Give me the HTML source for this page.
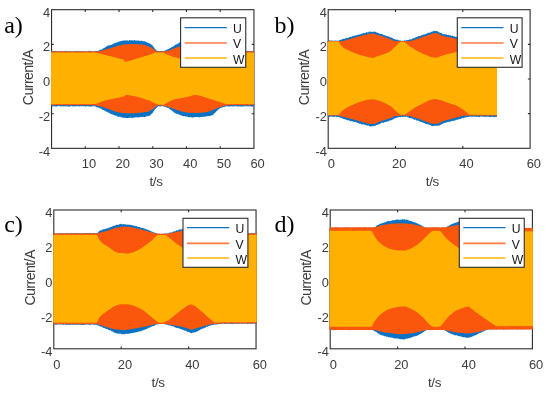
<!DOCTYPE html>
<html><head><meta charset="utf-8"><title>Current plots</title>
<style>html,body{margin:0;padding:0;background:#fff}svg{display:block}</style></head>
<body>
<svg width="550" height="395" viewBox="0 0 550 395">
<style>text{font-family:"Liberation Sans",Arial,sans-serif;fill:#3c3c3c}.tk{font-size:12.9px}.lb{font-size:14.2px}.lx{font-size:13.4px}.lg{font-size:12.2px;fill:#151515}.pl{font-family:"Liberation Serif","Times New Roman",serif;font-size:24px;fill:#000}</style>
<rect width="550" height="395" fill="#fff"/>
<rect x="51.55" y="9.7" width="202.40" height="138.65" fill="none" stroke="#2c2c2c" stroke-width="1.1"/>
<path d="M85.28 148.35v-2.2M85.28 9.7v2.2M119.02 148.35v-2.2M119.02 9.7v2.2M152.75 148.35v-2.2M152.75 9.7v2.2M186.48 148.35v-2.2M186.48 9.7v2.2M220.22 148.35v-2.2M220.22 9.7v2.2M51.55 44.36h2.2M253.95 44.36h-2.2M51.55 79.03h2.2M253.95 79.03h-2.2M51.55 113.69h2.2M253.95 113.69h-2.2" stroke="#2c2c2c" stroke-width="1.1" fill="none"/>
<polygon points="51.0,50.8 51.5,50.9 52.0,51.4 52.5,51.2 53.0,50.8 53.5,51.1 54.0,51.1 54.5,50.9 55.0,51.3 55.5,50.9 56.0,51.1 56.5,51.2 57.0,51.1 57.5,51.2 58.0,51.3 58.5,51.5 59.0,51.0 59.5,51.3 60.0,51.3 60.5,51.0 61.0,50.8 61.5,51.5 62.0,51.0 62.5,51.0 63.0,51.4 63.5,51.2 64.0,51.1 64.5,51.4 65.0,50.8 65.5,51.3 66.0,51.1 66.5,50.8 67.0,51.3 67.5,51.5 68.0,50.9 68.5,51.2 69.0,51.0 69.5,51.3 70.0,51.3 70.5,50.9 71.0,51.4 71.5,51.3 72.0,51.3 72.5,51.4 73.0,51.1 73.5,51.3 74.0,51.4 74.5,50.8 75.0,51.4 75.5,51.1 76.0,51.1 76.5,50.9 77.0,51.3 77.5,51.0 78.0,51.4 78.5,51.0 79.0,51.2 79.5,51.1 80.0,51.2 80.5,50.9 81.0,50.9 81.5,51.3 82.0,51.3 82.5,51.2 83.0,51.5 83.5,50.9 84.0,51.4 84.5,50.9 85.0,51.5 85.5,51.2 86.0,51.2 86.5,51.5 87.0,51.4 87.5,51.4 88.0,50.8 88.5,51.1 89.0,50.8 89.5,50.9 90.0,50.9 90.5,51.4 91.0,50.9 91.5,51.0 92.0,51.1 92.5,51.4 93.0,51.5 93.5,51.3 94.0,50.9 94.5,51.2 95.0,51.3 95.5,50.8 96.0,51.3 96.5,51.0 97.0,51.1 97.5,51.1 98.0,51.0 98.5,50.7 99.0,50.5 99.5,50.1 100.0,50.1 100.5,49.6 101.0,49.7 101.5,49.5 102.0,49.5 102.5,48.9 103.0,48.3 103.5,48.4 104.0,47.8 104.5,47.9 105.0,47.4 105.5,47.0 106.0,47.1 106.5,46.4 107.0,46.1 107.5,45.8 108.0,45.7 108.5,45.2 109.0,45.4 109.5,45.5 110.0,45.0 110.5,45.0 111.0,45.0 111.5,44.7 112.0,44.4 112.5,44.3 113.0,44.1 113.5,43.5 114.0,43.5 114.5,43.2 115.0,43.0 115.5,43.0 116.0,42.6 116.5,42.7 117.0,42.5 117.5,41.9 118.0,42.0 118.5,41.8 119.0,41.9 119.5,41.3 120.0,41.2 120.5,41.3 121.0,41.1 121.5,41.1 122.0,40.7 122.5,40.5 123.0,41.0 123.5,40.5 124.0,40.4 124.5,40.4 125.0,40.4 125.5,40.3 126.0,40.5 126.5,40.8 127.0,40.2 127.5,40.4 128.0,40.5 128.5,40.7 129.0,40.7 129.5,40.1 130.0,40.3 130.5,40.6 131.0,40.0 131.5,40.4 132.0,40.1 132.5,40.6 133.0,40.7 133.5,40.5 134.0,40.1 134.5,40.1 135.0,40.4 135.5,40.8 136.0,40.3 136.5,40.7 137.0,40.5 137.5,40.4 138.0,40.8 138.5,40.5 139.0,40.5 139.5,40.9 140.0,40.7 140.5,40.9 141.0,40.8 141.5,40.6 142.0,40.9 142.5,41.3 143.0,41.2 143.5,41.5 144.0,40.9 144.5,41.2 145.0,41.6 145.5,41.7 146.0,41.8 146.5,42.1 147.0,42.5 147.5,42.5 148.0,42.7 148.5,42.9 149.0,43.2 149.5,43.2 150.0,43.8 150.5,44.1 151.0,44.6 151.5,44.7 152.0,44.8 152.5,45.6 153.0,46.3 153.5,46.8 154.0,47.6 154.5,48.2 155.0,48.9 155.5,49.7 156.0,49.6 156.5,50.6 157.0,50.9 157.5,51.3 158.0,50.8 158.5,50.8 159.0,51.4 159.5,51.0 160.0,50.9 160.5,51.0 161.0,51.2 161.5,50.8 162.0,51.1 162.5,51.2 163.0,51.3 163.5,50.7 164.0,51.2 164.5,50.8 165.0,50.6 165.5,50.4 166.0,49.9 166.5,50.1 167.0,49.4 167.5,49.4 168.0,48.8 168.5,48.9 169.0,48.9 169.5,48.6 170.0,47.8 170.5,47.9 171.0,47.9 171.5,47.1 172.0,47.0 172.5,46.9 173.0,46.5 173.5,46.0 174.0,45.8 174.5,45.5 175.0,44.9 175.5,44.8 176.0,44.5 176.5,44.4 177.0,44.0 177.5,43.6 178.0,43.4 178.5,43.5 179.0,42.7 179.5,42.4 180.0,42.1 180.5,42.5 181.0,42.5 181.5,41.8 182.0,41.7 182.5,41.5 183.0,41.7 183.5,41.5 184.0,41.7 184.5,41.1 185.0,41.5 185.5,41.0 186.0,41.2 186.5,41.1 187.0,41.0 187.5,40.6 188.0,40.6 188.5,40.6 189.0,40.3 189.5,40.5 190.0,40.8 190.5,40.8 191.0,40.1 191.5,40.6 192.0,40.4 192.5,40.2 193.0,40.2 193.5,40.7 194.0,40.8 194.5,40.5 195.0,40.4 195.5,40.5 196.0,40.8 196.5,40.7 197.0,40.2 197.5,40.3 198.0,40.8 198.5,40.5 199.0,40.6 199.5,40.7 200.0,40.6 200.5,40.7 201.0,40.5 201.5,40.3 202.0,40.3 202.5,40.9 203.0,40.1 203.5,40.6 204.0,40.8 204.5,40.3 205.0,40.2 205.5,40.6 206.0,40.6 206.5,40.9 207.0,41.0 207.5,41.5 208.0,41.0 208.5,41.8 209.0,41.3 209.5,42.1 210.0,41.8 210.5,42.2 211.0,41.8 211.5,42.3 212.0,42.6 212.5,42.7 213.0,43.0 213.5,42.6 214.0,43.0 214.5,43.4 215.0,43.3 215.5,44.3 216.0,44.3 216.5,44.5 217.0,44.8 217.5,45.4 218.0,45.3 218.5,45.8 219.0,46.2 219.5,46.5 220.0,47.2 220.5,47.4 221.0,48.0 221.5,48.2 222.0,48.2 222.5,48.6 223.0,48.8 223.5,49.2 224.0,49.8 224.5,50.3 225.0,50.3 225.5,50.7 226.0,51.3 226.5,51.5 227.0,50.8 227.5,50.8 228.0,51.3 228.5,51.1 229.0,51.1 229.5,51.3 230.0,51.3 230.5,50.8 231.0,51.5 231.5,51.5 232.0,51.1 232.5,51.1 233.0,51.0 233.5,51.2 234.0,50.9 234.5,51.2 235.0,51.5 235.5,51.2 236.0,51.4 236.5,50.9 237.0,51.4 237.5,50.9 238.0,50.9 238.5,51.3 239.0,51.0 239.5,50.9 240.0,50.8 240.5,51.4 241.0,50.8 241.5,50.8 242.0,51.5 242.5,51.4 243.0,51.1 243.5,50.9 244.0,51.4 244.5,51.4 245.0,51.3 245.5,51.2 246.0,51.2 246.5,51.5 247.0,51.2 247.5,50.8 248.0,50.8 248.5,51.2 249.0,51.3 249.5,51.2 250.0,51.3 250.5,51.0 251.0,51.1 251.5,51.0 252.0,51.1 252.5,51.0 253.0,51.4 253.5,50.9 254.0,50.9 254.1,51.3 254.1,106.4 254.0,106.4 253.5,106.5 253.0,106.6 252.5,106.4 252.0,106.7 251.5,106.6 251.0,106.4 250.5,106.6 250.0,106.1 249.5,106.1 249.0,106.7 248.5,106.3 248.0,106.5 247.5,106.4 247.0,106.1 246.5,106.3 246.0,106.4 245.5,106.1 245.0,106.2 244.5,106.1 244.0,106.5 243.5,106.6 243.0,106.2 242.5,106.4 242.0,106.5 241.5,106.7 241.0,106.5 240.5,106.5 240.0,106.2 239.5,106.3 239.0,106.8 238.5,106.6 238.0,106.5 237.5,106.2 237.0,106.5 236.5,106.2 236.0,106.4 235.5,106.1 235.0,106.1 234.5,106.7 234.0,106.0 233.5,106.6 233.0,106.6 232.5,106.3 232.0,106.7 231.5,106.0 231.0,106.6 230.5,106.2 230.0,106.7 229.5,106.7 229.0,106.1 228.5,106.6 228.0,106.4 227.5,106.5 227.0,106.1 226.5,106.7 226.0,106.2 225.5,106.2 225.0,106.8 224.5,106.9 224.0,106.9 223.5,106.7 223.0,107.3 222.5,107.6 222.0,107.4 221.5,107.4 221.0,107.8 220.5,108.1 220.0,108.3 219.5,108.8 219.0,108.9 218.5,109.1 218.0,110.2 217.5,110.3 217.0,111.0 216.5,111.1 216.0,112.0 215.5,112.3 215.0,113.1 214.5,113.3 214.0,113.6 213.5,114.4 213.0,115.0 212.5,115.1 212.0,115.5 211.5,115.4 211.0,115.6 210.5,115.6 210.0,116.2 209.5,115.9 209.0,116.2 208.5,116.0 208.0,116.1 207.5,116.1 207.0,116.6 206.5,116.6 206.0,116.3 205.5,116.4 205.0,116.5 204.5,116.8 204.0,116.9 203.5,116.8 203.0,116.7 202.5,117.0 202.0,116.7 201.5,116.7 201.0,117.0 200.5,117.1 200.0,117.2 199.5,117.2 199.0,117.4 198.5,117.1 198.0,117.2 197.5,117.1 197.0,116.8 196.5,116.9 196.0,116.9 195.5,117.5 195.0,117.1 194.5,116.9 194.0,117.3 193.5,117.3 193.0,117.6 192.5,117.4 192.0,117.5 191.5,117.4 191.0,116.8 190.5,116.9 190.0,117.4 189.5,117.3 189.0,116.9 188.5,117.2 188.0,117.1 187.5,116.8 187.0,116.4 186.5,116.5 186.0,116.5 185.5,116.6 185.0,116.5 184.5,116.1 184.0,115.9 183.5,116.4 183.0,115.9 182.5,115.9 182.0,115.6 181.5,115.8 181.0,115.0 180.5,115.5 180.0,114.9 179.5,114.7 179.0,114.5 178.5,114.5 178.0,114.0 177.5,113.7 177.0,113.7 176.5,113.9 176.0,113.8 175.5,112.9 175.0,113.3 174.5,113.0 174.0,112.2 173.5,111.8 173.0,111.5 172.5,111.5 172.0,110.5 171.5,110.5 171.0,109.8 170.5,109.7 170.0,109.6 169.5,109.1 169.0,108.6 168.5,108.0 168.0,107.8 167.5,108.1 167.0,107.4 166.5,107.5 166.0,107.4 165.5,106.8 165.0,106.8 164.5,106.5 164.0,106.7 163.5,106.5 163.0,106.4 162.5,106.1 162.0,106.0 161.5,105.9 161.0,106.5 160.5,106.5 160.0,106.2 159.5,106.5 159.0,106.3 158.5,106.1 158.0,106.5 157.5,107.0 157.0,107.2 156.5,107.9 156.0,108.3 155.5,108.9 155.0,109.2 154.5,110.1 154.0,111.1 153.5,111.6 153.0,112.5 152.5,112.7 152.0,113.7 151.5,113.8 151.0,114.6 150.5,114.9 150.0,115.5 149.5,115.7 149.0,115.9 148.5,115.8 148.0,116.2 147.5,116.3 147.0,116.3 146.5,116.3 146.0,116.5 145.5,116.8 145.0,117.1 144.5,117.3 144.0,116.9 143.5,116.7 143.0,116.7 142.5,117.0 142.0,116.8 141.5,117.0 141.0,117.0 140.5,116.9 140.0,117.2 139.5,117.0 139.0,117.4 138.5,117.3 138.0,117.5 137.5,117.7 137.0,117.1 136.5,117.6 136.0,117.1 135.5,117.6 135.0,117.5 134.5,117.8 134.0,117.2 133.5,117.7 133.0,117.8 132.5,117.9 132.0,118.0 131.5,118.0 131.0,117.5 130.5,117.6 130.0,117.7 129.5,118.0 129.0,117.9 128.5,117.7 128.0,118.1 127.5,117.9 127.0,117.9 126.5,118.0 126.0,118.1 125.5,118.1 125.0,117.7 124.5,118.1 124.0,117.8 123.5,117.8 123.0,117.6 122.5,117.7 122.0,117.3 121.5,117.7 121.0,116.9 120.5,116.8 120.0,117.1 119.5,116.5 119.0,116.9 118.5,116.9 118.0,116.8 117.5,116.3 117.0,116.5 116.5,115.7 116.0,115.6 115.5,116.0 115.0,115.2 114.5,115.4 114.0,114.9 113.5,114.8 113.0,115.2 112.5,114.3 112.0,114.2 111.5,114.3 111.0,113.8 110.5,113.7 110.0,113.8 109.5,113.1 109.0,113.1 108.5,112.5 108.0,112.2 107.5,112.2 107.0,111.6 106.5,111.9 106.0,111.6 105.5,110.9 105.0,110.8 104.5,110.8 104.0,110.2 103.5,109.7 103.0,110.1 102.5,109.9 102.0,109.5 101.5,108.8 101.0,108.4 100.5,108.4 100.0,108.0 99.5,108.3 99.0,108.0 98.5,107.6 98.0,107.4 97.5,107.2 97.0,107.5 96.5,107.1 96.0,106.9 95.5,106.3 95.0,106.5 94.5,106.0 94.0,106.4 93.5,106.0 93.0,106.1 92.5,106.4 92.0,106.3 91.5,106.8 91.0,106.6 90.5,106.3 90.0,106.6 89.5,106.7 89.0,106.7 88.5,106.2 88.0,106.4 87.5,106.1 87.0,106.5 86.5,106.2 86.0,106.6 85.5,106.7 85.0,106.4 84.5,106.1 84.0,106.7 83.5,106.2 83.0,106.0 82.5,106.2 82.0,106.3 81.5,106.6 81.0,106.2 80.5,106.0 80.0,106.5 79.5,106.6 79.0,106.4 78.5,106.1 78.0,106.1 77.5,106.6 77.0,106.2 76.5,106.0 76.0,106.6 75.5,106.3 75.0,106.5 74.5,106.6 74.0,106.1 73.5,106.5 73.0,106.5 72.5,106.6 72.0,106.3 71.5,106.1 71.0,106.3 70.5,106.1 70.0,106.7 69.5,106.7 69.0,106.5 68.5,106.5 68.0,106.5 67.5,106.3 67.0,106.4 66.5,106.3 66.0,106.6 65.5,106.6 65.0,106.2 64.5,106.3 64.0,106.3 63.5,106.7 63.0,106.2 62.5,106.1 62.0,106.2 61.5,106.4 61.0,106.4 60.5,106.3 60.0,106.6 59.5,106.1 59.0,106.1 58.5,106.1 58.0,106.1 57.5,106.5 57.0,106.2 56.5,106.6 56.0,106.5 55.5,106.5 55.0,106.3 54.5,106.5 54.0,106.4 53.5,106.1 53.0,106.2 52.5,106.7 52.0,106.8 51.5,106.3 51.0,106.3" fill="#0B72C4"/>
<polygon points="51.0,51.6 51.5,51.3 52.0,51.4 52.5,51.4 53.0,51.5 53.5,51.2 54.0,51.5 54.5,51.2 55.0,51.4 55.5,51.4 56.0,51.4 56.5,51.4 57.0,51.4 57.5,51.2 58.0,51.3 58.5,51.5 59.0,51.4 59.5,51.5 60.0,51.4 60.5,51.4 61.0,51.5 61.5,51.6 62.0,51.2 62.5,51.3 63.0,51.3 63.5,51.3 64.0,51.2 64.5,51.6 65.0,51.3 65.5,51.4 66.0,51.5 66.5,51.4 67.0,51.3 67.5,51.3 68.0,51.4 68.5,51.3 69.0,51.4 69.5,51.4 70.0,51.2 70.5,51.5 71.0,51.6 71.5,51.4 72.0,51.3 72.5,51.5 73.0,51.4 73.5,51.4 74.0,51.3 74.5,51.6 75.0,51.5 75.5,51.3 76.0,51.4 76.5,51.4 77.0,51.4 77.5,51.5 78.0,51.6 78.5,51.2 79.0,51.5 79.5,51.5 80.0,51.3 80.5,51.6 81.0,51.5 81.5,51.5 82.0,51.3 82.5,51.4 83.0,51.5 83.5,51.4 84.0,51.2 84.5,51.5 85.0,51.4 85.5,51.3 86.0,51.3 86.5,51.3 87.0,51.4 87.5,51.2 88.0,51.6 88.5,51.3 89.0,51.3 89.5,51.3 90.0,51.4 90.5,51.3 91.0,51.5 91.5,51.3 92.0,51.6 92.5,51.4 93.0,51.6 93.5,51.3 94.0,51.2 94.5,51.5 95.0,51.3 95.5,51.5 96.0,51.5 96.5,51.3 97.0,51.3 97.5,51.4 98.0,51.5 98.5,51.5 99.0,51.3 99.5,51.2 100.0,51.2 100.5,50.8 101.0,51.0 101.5,50.8 102.0,50.4 102.5,50.5 103.0,50.4 103.5,50.2 104.0,49.8 104.5,49.7 105.0,49.6 105.5,49.4 106.0,49.4 106.5,49.4 107.0,49.1 107.5,49.1 108.0,48.8 108.5,48.7 109.0,48.4 109.5,48.5 110.0,48.3 110.5,48.3 111.0,48.1 111.5,47.6 112.0,47.7 112.5,47.5 113.0,47.4 113.5,47.0 114.0,47.1 114.5,46.9 115.0,46.7 115.5,46.5 116.0,46.5 116.5,46.1 117.0,46.1 117.5,45.8 118.0,45.8 118.5,45.6 119.0,45.6 119.5,45.5 120.0,45.3 120.5,45.1 121.0,45.0 121.5,44.9 122.0,44.7 122.5,44.6 123.0,44.7 123.5,44.4 124.0,44.6 124.5,44.4 125.0,44.3 125.5,44.3 126.0,44.4 126.5,44.2 127.0,44.4 127.5,44.2 128.0,44.3 128.5,44.3 129.0,44.3 129.5,44.2 130.0,44.2 130.5,44.2 131.0,44.1 131.5,44.1 132.0,44.3 132.5,44.0 133.0,44.0 133.5,44.1 134.0,44.1 134.5,44.4 135.0,44.2 135.5,44.3 136.0,44.2 136.5,44.1 137.0,44.4 137.5,44.4 138.0,44.1 138.5,44.4 139.0,44.3 139.5,44.2 140.0,44.2 140.5,44.4 141.0,44.3 141.5,44.5 142.0,44.6 142.5,44.7 143.0,44.6 143.5,45.0 144.0,44.9 144.5,45.1 145.0,45.1 145.5,45.1 146.0,45.4 146.5,45.4 147.0,45.7 147.5,45.8 148.0,45.9 148.5,46.3 149.0,46.5 149.5,46.9 150.0,46.9 150.5,47.4 151.0,47.3 151.5,47.6 152.0,48.0 152.5,48.5 153.0,48.9 153.5,49.2 154.0,49.5 154.5,50.1 155.0,50.2 155.5,50.8 156.0,51.0 156.5,51.4 157.0,51.6 157.5,51.5 158.0,51.5 158.5,51.5 159.0,51.5 159.5,51.4 160.0,51.5 160.5,51.6 161.0,51.5 161.5,51.7 162.0,51.6 162.5,51.6 163.0,51.6 163.5,51.4 164.0,51.5 164.5,51.3 165.0,51.2 165.5,51.2 166.0,51.1 166.5,51.1 167.0,50.7 167.5,50.7 168.0,50.7 168.5,50.6 169.0,50.4 169.5,50.1 170.0,49.9 170.5,49.9 171.0,49.9 171.5,49.7 172.0,49.5 172.5,49.1 173.0,48.8 173.5,48.6 174.0,48.5 174.5,48.3 175.0,48.0 175.5,48.0 176.0,47.6 176.5,47.6 177.0,47.3 177.5,47.2 178.0,46.9 178.5,46.8 179.0,46.7 179.5,46.2 180.0,46.4 180.5,46.1 181.0,46.1 181.5,45.7 182.0,45.7 182.5,45.7 183.0,45.6 183.5,45.5 184.0,45.5 184.5,45.1 185.0,45.2 185.5,45.0 186.0,45.1 186.5,45.0 187.0,44.7 187.5,44.6 188.0,44.7 188.5,44.6 189.0,44.5 189.5,44.4 190.0,44.4 190.5,44.2 191.0,44.1 191.5,44.0 192.0,44.2 192.5,44.1 193.0,44.3 193.5,44.2 194.0,44.4 194.5,44.3 195.0,44.1 195.5,44.2 196.0,44.2 196.5,44.2 197.0,44.4 197.5,44.2 198.0,44.1 198.5,44.1 199.0,44.2 199.5,44.1 200.0,44.2 200.5,44.3 201.0,44.4 201.5,44.2 202.0,44.2 202.5,44.1 203.0,44.2 203.5,44.2 204.0,44.3 204.5,44.4 205.0,44.3 205.5,44.2 206.0,44.3 206.5,44.6 207.0,44.8 207.5,44.7 208.0,44.9 208.5,44.8 209.0,44.9 209.5,45.3 210.0,45.3 210.5,45.3 211.0,45.5 211.5,45.6 212.0,45.7 212.5,45.7 213.0,45.9 213.5,46.1 214.0,46.0 214.5,46.3 215.0,46.7 215.5,46.6 216.0,46.9 216.5,47.2 217.0,47.5 217.5,47.7 218.0,48.2 218.5,48.1 219.0,48.4 219.5,48.6 220.0,48.9 220.5,49.3 221.0,49.3 221.5,49.8 222.0,50.0 222.5,49.9 223.0,50.4 223.5,50.3 224.0,50.6 224.5,50.7 225.0,50.9 225.5,51.2 226.0,51.5 226.5,51.2 227.0,51.3 227.5,51.4 228.0,51.6 228.5,51.4 229.0,51.5 229.5,51.4 230.0,51.4 230.5,51.5 231.0,51.3 231.5,51.4 232.0,51.2 232.5,51.4 233.0,51.6 233.5,51.2 234.0,51.3 234.5,51.4 235.0,51.6 235.5,51.4 236.0,51.6 236.5,51.3 237.0,51.6 237.5,51.3 238.0,51.5 238.5,51.3 239.0,51.5 239.5,51.2 240.0,51.3 240.5,51.6 241.0,51.5 241.5,51.4 242.0,51.4 242.5,51.6 243.0,51.3 243.5,51.3 244.0,51.2 244.5,51.5 245.0,51.5 245.5,51.3 246.0,51.5 246.5,51.5 247.0,51.3 247.5,51.4 248.0,51.4 248.5,51.2 249.0,51.6 249.5,51.3 250.0,51.3 250.5,51.5 251.0,51.4 251.5,51.5 252.0,51.5 252.5,51.3 253.0,51.4 253.5,51.6 254.0,51.3 254.1,51.3 254.1,105.1 254.0,105.2 253.5,105.3 253.0,105.1 252.5,105.0 252.0,105.2 251.5,105.2 251.0,105.2 250.5,105.1 250.0,105.2 249.5,105.2 249.0,105.3 248.5,105.3 248.0,105.3 247.5,105.3 247.0,105.2 246.5,105.1 246.0,105.1 245.5,105.2 245.0,105.4 244.5,105.4 244.0,105.2 243.5,105.3 243.0,105.1 242.5,105.2 242.0,105.2 241.5,105.3 241.0,105.0 240.5,105.2 240.0,105.2 239.5,105.4 239.0,105.3 238.5,105.1 238.0,105.3 237.5,105.1 237.0,105.1 236.5,105.3 236.0,105.2 235.5,105.2 235.0,105.1 234.5,105.3 234.0,105.1 233.5,105.1 233.0,105.2 232.5,105.1 232.0,105.3 231.5,105.1 231.0,105.3 230.5,105.2 230.0,105.3 229.5,105.2 229.0,105.1 228.5,105.1 228.0,105.2 227.5,105.5 227.0,105.3 226.5,105.4 226.0,105.7 225.5,105.8 225.0,105.7 224.5,105.8 224.0,106.0 223.5,106.2 223.0,106.5 222.5,106.3 222.0,106.5 221.5,106.6 221.0,106.8 220.5,107.2 220.0,107.1 219.5,107.3 219.0,107.5 218.5,107.9 218.0,107.8 217.5,108.0 217.0,108.3 216.5,108.6 216.0,108.7 215.5,108.8 215.0,109.0 214.5,109.4 214.0,109.5 213.5,109.9 213.0,110.1 212.5,110.4 212.0,110.3 211.5,110.6 211.0,111.1 210.5,111.1 210.0,111.1 209.5,111.4 209.0,111.6 208.5,111.6 208.0,111.6 207.5,111.9 207.0,112.1 206.5,112.1 206.0,112.3 205.5,112.1 205.0,112.4 204.5,112.4 204.0,112.6 203.5,112.5 203.0,112.6 202.5,112.7 202.0,112.5 201.5,112.7 201.0,112.7 200.5,112.9 200.0,112.8 199.5,112.6 199.0,112.9 198.5,112.7 198.0,112.8 197.5,112.9 197.0,112.7 196.5,113.1 196.0,113.0 195.5,112.9 195.0,113.0 194.5,112.8 194.0,113.0 193.5,112.8 193.0,112.7 192.5,112.8 192.0,112.7 191.5,112.7 191.0,112.7 190.5,112.8 190.0,112.9 189.5,112.9 189.0,112.9 188.5,112.7 188.0,112.4 187.5,112.4 187.0,112.4 186.5,112.4 186.0,112.4 185.5,112.1 185.0,111.9 184.5,112.1 184.0,111.9 183.5,111.6 183.0,111.9 182.5,111.7 182.0,111.5 181.5,111.5 181.0,111.2 180.5,111.2 180.0,110.9 179.5,110.6 179.0,110.6 178.5,110.5 178.0,110.4 177.5,110.0 177.0,110.1 176.5,109.9 176.0,109.7 175.5,109.6 175.0,109.3 174.5,109.1 174.0,109.1 173.5,108.9 173.0,108.4 172.5,108.5 172.0,108.1 171.5,107.9 171.0,107.8 170.5,107.5 170.0,107.6 169.5,107.4 169.0,107.3 168.5,107.0 168.0,106.8 167.5,106.7 167.0,106.8 166.5,106.4 166.0,106.6 165.5,106.4 165.0,106.3 164.5,105.9 164.0,105.8 163.5,106.0 163.0,105.9 162.5,105.7 162.0,105.7 161.5,105.5 161.0,105.4 160.5,105.4 160.0,105.4 159.5,105.6 159.0,105.3 158.5,105.3 158.0,105.7 157.5,105.6 157.0,106.0 156.5,106.1 156.0,106.7 155.5,107.1 155.0,107.1 154.5,107.7 154.0,108.2 153.5,108.7 153.0,109.1 152.5,109.3 152.0,109.7 151.5,110.0 151.0,110.0 150.5,110.3 150.0,110.7 149.5,110.8 149.0,111.3 148.5,111.4 148.0,111.6 147.5,111.9 147.0,111.9 146.5,111.9 146.0,111.9 145.5,112.0 145.0,112.1 144.5,112.1 144.0,112.2 143.5,112.3 143.0,112.3 142.5,112.6 142.0,112.6 141.5,112.6 141.0,112.7 140.5,113.0 140.0,113.0 139.5,113.1 139.0,113.1 138.5,113.0 138.0,113.0 137.5,113.0 137.0,113.0 136.5,113.2 136.0,113.0 135.5,113.1 135.0,113.3 134.5,113.2 134.0,113.4 133.5,113.4 133.0,113.3 132.5,113.5 132.0,113.2 131.5,113.2 131.0,113.3 130.5,113.4 130.0,113.3 129.5,113.3 129.0,113.2 128.5,113.4 128.0,113.2 127.5,113.2 127.0,113.2 126.5,113.4 126.0,113.1 125.5,113.3 125.0,113.2 124.5,113.0 124.0,113.0 123.5,112.9 123.0,113.2 122.5,113.0 122.0,113.1 121.5,113.0 121.0,112.7 120.5,112.7 120.0,112.5 119.5,112.5 119.0,112.3 118.5,112.4 118.0,112.2 117.5,112.2 117.0,112.1 116.5,111.7 116.0,111.6 115.5,111.7 115.0,111.5 114.5,111.2 114.0,111.1 113.5,111.0 113.0,110.5 112.5,110.4 112.0,110.2 111.5,110.3 111.0,109.9 110.5,109.7 110.0,109.7 109.5,109.3 109.0,109.2 108.5,109.0 108.0,108.8 107.5,108.8 107.0,108.6 106.5,108.4 106.0,108.2 105.5,107.8 105.0,107.8 104.5,107.5 104.0,107.6 103.5,107.4 103.0,107.0 102.5,106.8 102.0,106.9 101.5,106.8 101.0,106.7 100.5,106.3 100.0,106.3 99.5,106.2 99.0,106.3 98.5,106.0 98.0,106.0 97.5,105.8 97.0,105.8 96.5,105.5 96.0,105.6 95.5,105.6 95.0,105.5 94.5,105.4 94.0,105.4 93.5,105.3 93.0,105.3 92.5,105.2 92.0,105.2 91.5,105.1 91.0,105.0 90.5,105.1 90.0,105.3 89.5,105.4 89.0,105.1 88.5,105.4 88.0,105.3 87.5,105.3 87.0,105.2 86.5,105.2 86.0,105.2 85.5,105.1 85.0,105.3 84.5,105.1 84.0,105.3 83.5,105.1 83.0,105.2 82.5,105.3 82.0,105.2 81.5,105.1 81.0,105.2 80.5,105.0 80.0,105.2 79.5,105.3 79.0,105.0 78.5,105.1 78.0,105.3 77.5,105.2 77.0,105.1 76.5,105.2 76.0,105.3 75.5,105.1 75.0,105.0 74.5,105.1 74.0,105.1 73.5,105.4 73.0,105.2 72.5,105.2 72.0,105.1 71.5,105.1 71.0,105.0 70.5,105.3 70.0,105.3 69.5,105.3 69.0,105.3 68.5,105.3 68.0,105.1 67.5,105.4 67.0,105.4 66.5,105.2 66.0,105.2 65.5,105.4 65.0,105.1 64.5,105.0 64.0,105.3 63.5,105.3 63.0,105.3 62.5,105.0 62.0,105.0 61.5,105.1 61.0,105.3 60.5,105.2 60.0,105.1 59.5,105.3 59.0,105.2 58.5,105.2 58.0,105.3 57.5,105.1 57.0,105.2 56.5,105.2 56.0,105.1 55.5,105.3 55.0,105.3 54.5,105.2 54.0,105.1 53.5,105.1 53.0,105.3 52.5,105.4 52.0,105.2 51.5,105.1 51.0,105.3" fill="#FA570C"/>
<polygon points="51.0,52.7 51.5,52.5 52.0,52.7 52.5,52.7 53.0,52.5 53.5,52.7 54.0,52.6 54.5,52.5 55.0,52.6 55.5,52.7 56.0,52.5 56.5,52.6 57.0,52.5 57.5,52.7 58.0,52.5 58.5,52.5 59.0,52.5 59.5,52.7 60.0,52.5 60.5,52.7 61.0,52.5 61.5,52.6 62.0,52.5 62.5,52.5 63.0,52.5 63.5,52.6 64.0,52.5 64.5,52.6 65.0,52.7 65.5,52.6 66.0,52.5 66.5,52.6 67.0,52.6 67.5,52.6 68.0,52.5 68.5,52.5 69.0,52.6 69.5,52.6 70.0,52.6 70.5,52.5 71.0,52.5 71.5,52.6 72.0,52.7 72.5,52.5 73.0,52.5 73.5,52.5 74.0,52.6 74.5,52.5 75.0,52.6 75.5,52.6 76.0,52.6 76.5,52.6 77.0,52.7 77.5,52.6 78.0,52.5 78.5,52.7 79.0,52.5 79.5,52.5 80.0,52.5 80.5,52.7 81.0,52.6 81.5,52.6 82.0,52.5 82.5,52.7 83.0,52.5 83.5,52.6 84.0,52.7 84.5,52.6 85.0,52.5 85.5,52.7 86.0,52.5 86.5,52.6 87.0,52.6 87.5,52.6 88.0,52.5 88.5,52.6 89.0,52.6 89.5,52.7 90.0,52.7 90.5,52.5 91.0,52.7 91.5,52.6 92.0,52.6 92.5,52.6 93.0,52.5 93.5,52.6 94.0,52.6 94.5,52.5 95.0,52.5 95.5,52.7 96.0,52.8 96.5,52.7 97.0,53.0 97.5,53.1 98.0,53.1 98.5,53.4 99.0,53.5 99.5,53.5 100.0,53.7 100.5,53.8 101.0,54.0 101.5,54.0 102.0,54.2 102.5,54.4 103.0,54.5 103.5,54.6 104.0,54.8 104.5,54.9 105.0,55.0 105.5,55.1 106.0,55.1 106.5,55.2 107.0,55.4 107.5,55.6 108.0,55.8 108.5,55.7 109.0,56.0 109.5,56.1 110.0,56.1 110.5,56.3 111.0,56.3 111.5,56.6 112.0,56.6 112.5,56.8 113.0,56.9 113.5,57.0 114.0,57.2 114.5,57.3 115.0,57.3 115.5,57.6 116.0,57.7 116.5,57.9 117.0,58.1 117.5,58.0 118.0,58.3 118.5,58.4 119.0,58.5 119.5,58.5 120.0,58.8 120.5,58.9 121.0,59.0 121.5,59.2 122.0,59.2 122.5,59.3 123.0,59.4 123.5,59.7 124.0,60.2 124.5,60.7 125.0,61.4 125.5,61.7 126.0,61.8 126.5,61.8 127.0,61.5 127.5,61.4 128.0,61.3 128.5,61.1 129.0,61.0 129.5,60.8 130.0,60.6 130.5,60.5 131.0,60.4 131.5,60.2 132.0,60.2 132.5,59.9 133.0,59.8 133.5,59.6 134.0,59.5 134.5,59.3 135.0,59.1 135.5,58.9 136.0,58.7 136.5,58.8 137.0,58.5 137.5,58.5 138.0,58.3 138.5,58.1 139.0,57.8 139.5,57.9 140.0,57.6 140.5,57.6 141.0,57.3 141.5,57.3 142.0,57.0 142.5,56.8 143.0,56.8 143.5,56.6 144.0,56.4 144.5,56.3 145.0,56.1 145.5,56.0 146.0,55.9 146.5,55.7 147.0,55.6 147.5,55.4 148.0,55.3 148.5,55.2 149.0,55.1 149.5,54.8 150.0,54.7 150.5,54.4 151.0,54.2 151.5,54.1 152.0,53.7 152.5,53.7 153.0,53.5 153.5,53.2 154.0,53.1 154.5,52.8 155.0,52.6 155.5,52.5 156.0,52.4 156.5,52.6 157.0,52.6 157.5,52.6 158.0,52.5 158.5,52.6 159.0,52.5 159.5,52.5 160.0,52.4 160.5,52.6 161.0,52.4 161.5,52.5 162.0,52.4 162.5,52.4 163.0,52.6 163.5,52.8 164.0,53.0 164.5,53.2 165.0,53.5 165.5,53.7 166.0,54.0 166.5,54.2 167.0,54.3 167.5,54.6 168.0,54.9 168.5,54.9 169.0,55.2 169.5,55.3 170.0,55.6 170.5,55.8 171.0,56.1 171.5,56.3 172.0,56.4 172.5,56.7 173.0,56.9 173.5,57.0 174.0,57.1 174.5,57.1 175.0,57.3 175.5,57.3 176.0,57.5 176.5,57.5 177.0,57.6 177.5,57.9 178.0,57.9 178.5,58.1 179.0,58.2 179.5,58.2 180.0,58.4 180.5,58.5 181.0,58.5 181.5,58.7 182.0,58.8 182.5,58.9 183.0,58.9 183.5,59.0 184.0,59.1 184.5,59.2 185.0,59.4 185.5,59.4 186.0,59.6 186.5,59.5 187.0,59.8 187.5,59.8 188.0,59.9 188.5,60.0 189.0,60.0 189.5,60.2 190.0,60.2 190.5,60.3 191.0,60.5 191.5,60.5 192.0,60.7 192.5,60.6 193.0,60.9 193.5,61.1 194.0,61.2 194.5,61.3 195.0,61.4 195.5,61.2 196.0,61.1 196.5,60.8 197.0,60.5 197.5,60.4 198.0,60.1 198.5,60.1 199.0,59.9 199.5,59.8 200.0,59.8 200.5,59.5 201.0,59.4 201.5,59.2 202.0,59.1 202.5,59.0 203.0,58.8 203.5,58.7 204.0,58.7 204.5,58.5 205.0,58.3 205.5,58.2 206.0,58.0 206.5,57.9 207.0,57.8 207.5,57.6 208.0,57.5 208.5,57.3 209.0,57.3 209.5,57.2 210.0,57.1 210.5,56.9 211.0,56.7 211.5,56.6 212.0,56.3 212.5,56.2 213.0,56.1 213.5,56.0 214.0,55.8 214.5,55.7 215.0,55.5 215.5,55.4 216.0,55.3 216.5,55.1 217.0,54.8 217.5,54.7 218.0,54.6 218.5,54.4 219.0,54.2 219.5,54.2 220.0,53.9 220.5,53.8 221.0,53.8 221.5,53.7 222.0,53.5 222.5,53.3 223.0,53.4 223.5,53.2 224.0,53.1 224.5,53.0 225.0,52.9 225.5,52.6 226.0,52.6 226.5,52.7 227.0,52.6 227.5,52.6 228.0,52.6 228.5,52.6 229.0,52.5 229.5,52.6 230.0,52.6 230.5,52.6 231.0,52.6 231.5,52.6 232.0,52.5 232.5,52.6 233.0,52.5 233.5,52.6 234.0,52.5 234.5,52.6 235.0,52.6 235.5,52.5 236.0,52.5 236.5,52.6 237.0,52.6 237.5,52.7 238.0,52.6 238.5,52.6 239.0,52.7 239.5,52.7 240.0,52.6 240.5,52.6 241.0,52.7 241.5,52.6 242.0,52.7 242.5,52.5 243.0,52.5 243.5,52.6 244.0,52.6 244.5,52.6 245.0,52.5 245.5,52.5 246.0,52.5 246.5,52.7 247.0,52.7 247.5,52.7 248.0,52.6 248.5,52.6 249.0,52.6 249.5,52.6 250.0,52.6 250.5,52.7 251.0,52.5 251.5,52.6 252.0,52.7 252.5,52.6 253.0,52.7 253.5,52.6 254.0,52.6 254.1,52.6 254.1,104.2 254.0,104.1 253.5,104.0 253.0,104.1 252.5,104.1 252.0,104.2 251.5,104.2 251.0,104.1 250.5,104.1 250.0,104.1 249.5,104.1 249.0,104.2 248.5,104.2 248.0,104.1 247.5,104.1 247.0,104.1 246.5,104.1 246.0,104.0 245.5,104.1 245.0,104.1 244.5,104.1 244.0,104.1 243.5,104.1 243.0,104.1 242.5,104.1 242.0,104.1 241.5,104.0 241.0,104.1 240.5,104.0 240.0,104.0 239.5,104.2 239.0,104.1 238.5,104.1 238.0,104.0 237.5,104.0 237.0,104.1 236.5,104.1 236.0,104.1 235.5,104.0 235.0,104.1 234.5,104.0 234.0,104.2 233.5,104.0 233.0,104.2 232.5,104.2 232.0,104.1 231.5,104.1 231.0,104.0 230.5,104.0 230.0,104.0 229.5,104.1 229.0,104.1 228.5,104.1 228.0,104.0 227.5,104.0 227.0,104.1 226.5,104.2 226.0,104.0 225.5,103.8 225.0,103.7 224.5,103.5 224.0,103.4 223.5,103.2 223.0,103.0 222.5,102.8 222.0,102.7 221.5,102.6 221.0,102.5 220.5,102.3 220.0,102.0 219.5,101.8 219.0,101.7 218.5,101.6 218.0,101.4 217.5,101.2 217.0,101.1 216.5,101.1 216.0,100.9 215.5,100.8 215.0,100.5 214.5,100.3 214.0,100.3 213.5,100.0 213.0,99.8 212.5,99.7 212.0,99.5 211.5,99.4 211.0,99.2 210.5,99.1 210.0,98.9 209.5,98.7 209.0,98.6 208.5,98.4 208.0,98.3 207.5,98.0 207.0,97.8 206.5,97.7 206.0,97.5 205.5,97.4 205.0,97.3 204.5,97.2 204.0,96.9 203.5,96.7 203.0,96.7 202.5,96.6 202.0,96.3 201.5,96.2 201.0,96.0 200.5,95.9 200.0,95.8 199.5,95.6 199.0,95.6 198.5,95.4 198.0,95.4 197.5,95.2 197.0,95.2 196.5,95.0 196.0,94.9 195.5,94.9 195.0,94.9 194.5,94.9 194.0,95.1 193.5,95.2 193.0,95.3 192.5,95.6 192.0,95.7 191.5,95.8 191.0,95.8 190.5,96.0 190.0,96.2 189.5,96.4 189.0,96.4 188.5,96.5 188.0,96.8 187.5,96.7 187.0,96.9 186.5,97.1 186.0,97.2 185.5,97.3 185.0,97.3 184.5,97.6 184.0,97.6 183.5,97.7 183.0,97.7 182.5,97.8 182.0,98.0 181.5,98.1 181.0,98.2 180.5,98.3 180.0,98.3 179.5,98.5 179.0,98.6 178.5,98.6 178.0,98.7 177.5,98.8 177.0,98.9 176.5,98.9 176.0,99.1 175.5,99.2 175.0,99.3 174.5,99.4 174.0,99.6 173.5,99.7 173.0,99.7 172.5,100.0 172.0,100.1 171.5,100.3 171.0,100.7 170.5,100.9 170.0,101.2 169.5,101.5 169.0,101.7 168.5,101.9 168.0,102.2 167.5,102.5 167.0,102.9 166.5,103.1 166.0,103.4 165.5,103.6 165.0,103.9 164.5,104.2 164.0,104.5 163.5,104.6 163.0,104.8 162.5,104.8 162.0,104.8 161.5,104.6 161.0,104.7 160.5,104.8 160.0,104.7 159.5,104.8 159.0,104.8 158.5,104.8 158.0,104.6 157.5,104.5 157.0,104.2 156.5,103.9 156.0,103.8 155.5,103.5 155.0,103.2 154.5,103.0 154.0,102.7 153.5,102.6 153.0,102.4 152.5,102.2 152.0,101.9 151.5,101.6 151.0,101.3 150.5,101.1 150.0,100.9 149.5,100.6 149.0,100.4 148.5,100.2 148.0,100.1 147.5,100.0 147.0,99.9 146.5,99.7 146.0,99.5 145.5,99.3 145.0,99.2 144.5,99.0 144.0,98.8 143.5,98.8 143.0,98.5 142.5,98.3 142.0,98.3 141.5,98.1 141.0,98.0 140.5,97.8 140.0,97.5 139.5,97.4 139.0,97.3 138.5,97.3 138.0,97.0 137.5,96.9 137.0,96.8 136.5,96.5 136.0,96.6 135.5,96.5 135.0,96.3 134.5,96.2 134.0,96.0 133.5,96.0 133.0,95.9 132.5,95.8 132.0,95.8 131.5,95.7 131.0,95.5 130.5,95.6 130.0,95.4 129.5,95.3 129.0,95.3 128.5,95.1 128.0,95.1 127.5,94.9 127.0,94.9 126.5,94.8 126.0,94.9 125.5,95.2 125.0,95.5 124.5,95.9 124.0,96.3 123.5,96.6 123.0,96.8 122.5,96.9 122.0,96.9 121.5,97.0 121.0,97.1 120.5,97.3 120.0,97.4 119.5,97.6 119.0,97.7 118.5,97.6 118.0,97.7 117.5,97.9 117.0,97.9 116.5,98.0 116.0,98.3 115.5,98.2 115.0,98.4 114.5,98.4 114.0,98.6 113.5,98.7 113.0,98.8 112.5,98.9 112.0,99.1 111.5,99.1 111.0,99.1 110.5,99.4 110.0,99.5 109.5,99.6 109.0,99.7 108.5,99.8 108.0,99.8 107.5,100.0 107.0,100.0 106.5,100.2 106.0,100.2 105.5,100.4 105.0,100.5 104.5,100.6 104.0,100.8 103.5,101.0 103.0,101.2 102.5,101.4 102.0,101.5 101.5,101.6 101.0,101.9 100.5,102.1 100.0,102.2 99.5,102.4 99.0,102.7 98.5,103.0 98.0,103.2 97.5,103.3 97.0,103.5 96.5,103.7 96.0,104.0 95.5,104.1 95.0,104.0 94.5,104.0 94.0,104.1 93.5,104.1 93.0,104.1 92.5,104.1 92.0,104.1 91.5,104.2 91.0,104.2 90.5,104.1 90.0,104.0 89.5,104.1 89.0,104.1 88.5,104.1 88.0,104.1 87.5,104.1 87.0,104.1 86.5,104.0 86.0,104.0 85.5,104.2 85.0,104.0 84.5,104.0 84.0,104.1 83.5,104.1 83.0,104.0 82.5,104.0 82.0,104.1 81.5,104.1 81.0,104.1 80.5,104.1 80.0,104.1 79.5,104.1 79.0,104.1 78.5,104.2 78.0,104.0 77.5,104.2 77.0,104.1 76.5,104.1 76.0,104.1 75.5,104.2 75.0,104.0 74.5,104.1 74.0,104.1 73.5,104.1 73.0,104.2 72.5,104.1 72.0,104.1 71.5,104.1 71.0,104.2 70.5,104.2 70.0,104.2 69.5,104.0 69.0,104.1 68.5,104.2 68.0,104.0 67.5,104.1 67.0,104.0 66.5,104.0 66.0,104.1 65.5,104.1 65.0,104.1 64.5,104.1 64.0,104.0 63.5,104.1 63.0,104.1 62.5,104.2 62.0,104.2 61.5,104.2 61.0,104.0 60.5,104.2 60.0,104.2 59.5,104.1 59.0,104.0 58.5,104.0 58.0,104.1 57.5,104.1 57.0,104.0 56.5,104.0 56.0,104.1 55.5,104.2 55.0,104.2 54.5,104.0 54.0,104.2 53.5,104.2 53.0,104.2 52.5,104.0 52.0,104.2 51.5,104.1 51.0,104.0" fill="#FFB000"/>
<text class="tk" x="89.0" y="168.4" text-anchor="middle">10</text>
<text class="tk" x="122.7" y="168.4" text-anchor="middle">20</text>
<text class="tk" x="156.4" y="168.4" text-anchor="middle">30</text>
<text class="tk" x="190.2" y="168.4" text-anchor="middle">40</text>
<text class="tk" x="223.9" y="168.4" text-anchor="middle">50</text>
<text class="tk" x="257.6" y="168.4" text-anchor="middle">60</text>
<text class="tk" x="50.2" y="16.6" text-anchor="end">4</text>
<text class="tk" x="50.2" y="51.4" text-anchor="end">2</text>
<text class="tk" x="50.2" y="86.2" text-anchor="end">0</text>
<text class="tk" x="50.2" y="121.1" text-anchor="end">-2</text>
<text class="tk" x="50.2" y="155.9" text-anchor="end">-4</text>
<text class="lx" x="156.2" y="186.4" text-anchor="middle" textLength="13.5" lengthAdjust="spacing">t/s</text>
<text class="lb" transform="translate(32.7,77.2) rotate(-90)" text-anchor="middle" textLength="56" lengthAdjust="spacing">Current/A</text>
<rect x="180.6" y="17.8" width="65.15" height="49.50" fill="#fff" stroke="#2c2c2c" stroke-width="1.1"/>
<line x1="184.6" y1="27.55" x2="226.8" y2="27.55" stroke="#0B72C4" stroke-width="1.25"/>
<text class="lg" x="233.1" y="33.0">U</text>
<line x1="184.6" y1="43.00" x2="226.8" y2="43.00" stroke="#FF7A40" stroke-width="1.7"/>
<text class="lg" x="233.1" y="48.4">V</text>
<line x1="184.6" y1="58.10" x2="226.8" y2="58.10" stroke="#FFB414" stroke-width="1.5"/>
<text class="lg" x="233.1" y="63.5">W</text>
<text class="pl" x="4.2" y="33">a)</text>
<rect x="328.2" y="9.7" width="201.90" height="138.60" fill="none" stroke="#2c2c2c" stroke-width="1.1"/>
<path d="M395.50 148.3v-2.2M395.50 9.7v2.2M462.80 148.3v-2.2M462.80 9.7v2.2M328.2 44.35h2.2M530.1 44.35h-2.2M328.2 79.00h2.2M530.1 79.00h-2.2M328.2 113.65h2.2M530.1 113.65h-2.2" stroke="#2c2c2c" stroke-width="1.1" fill="none"/>
<polygon points="327.8,40.9 328.3,40.9 328.8,41.0 329.3,40.6 329.8,40.3 330.3,40.8 330.8,40.6 331.3,40.6 331.8,40.4 332.3,40.5 332.8,40.9 333.3,41.0 333.8,40.4 334.3,40.8 334.8,40.5 335.3,40.8 335.8,40.5 336.3,41.0 336.8,40.6 337.3,40.8 337.8,40.6 338.3,40.8 338.8,40.7 339.3,40.3 339.8,39.9 340.3,39.7 340.8,39.7 341.3,39.8 341.8,39.5 342.3,39.2 342.8,38.7 343.3,38.8 343.8,38.8 344.3,38.8 344.8,38.7 345.3,38.2 345.8,38.4 346.3,37.7 346.8,37.9 347.3,37.9 347.8,37.9 348.3,37.8 348.8,37.5 349.3,37.3 349.8,37.0 350.3,36.9 350.8,36.6 351.3,36.9 351.8,36.4 352.3,36.1 352.8,36.4 353.3,36.0 353.8,35.9 354.3,36.1 354.8,35.3 355.3,35.2 355.8,35.4 356.3,34.9 356.8,35.4 357.3,35.3 357.8,34.6 358.3,34.9 358.8,34.5 359.3,34.4 359.8,34.2 360.3,34.4 360.8,33.8 361.3,34.1 361.8,33.6 362.3,33.4 362.8,33.8 363.3,33.0 363.8,32.9 364.3,33.1 364.8,33.2 365.3,33.1 365.8,32.8 366.3,32.2 366.8,32.1 367.3,32.5 367.8,32.4 368.3,32.4 368.8,31.8 369.3,31.8 369.8,31.6 370.3,31.4 370.8,31.9 371.3,31.9 371.8,31.4 372.3,31.8 372.8,32.0 373.3,32.0 373.8,31.6 374.3,31.4 374.8,31.7 375.3,31.8 375.8,32.1 376.3,32.4 376.8,32.5 377.3,32.4 377.8,32.7 378.3,32.8 378.8,33.5 379.3,33.6 379.8,33.9 380.3,33.6 380.8,34.1 381.3,33.8 381.8,34.1 382.3,34.3 382.8,34.4 383.3,34.5 383.8,35.2 384.3,35.0 384.8,35.4 385.3,35.2 385.8,35.7 386.3,35.9 386.8,36.2 387.3,35.9 387.8,36.6 388.3,36.7 388.8,36.3 389.3,36.7 389.8,36.9 390.3,37.5 390.8,37.5 391.3,37.4 391.8,37.8 392.3,38.3 392.8,38.0 393.3,38.7 393.8,38.9 394.3,39.2 394.8,38.9 395.3,39.7 395.8,39.4 396.3,39.8 396.8,39.6 397.3,39.6 397.8,39.7 398.3,40.2 398.8,40.6 399.3,40.6 399.8,40.2 400.3,40.2 400.8,41.0 401.3,40.6 401.8,40.9 402.3,40.8 402.8,40.8 403.3,40.9 403.8,40.6 404.3,40.5 404.8,40.2 405.3,40.9 405.8,40.1 406.3,40.5 406.8,39.8 407.3,40.1 407.8,40.2 408.3,39.9 408.8,39.8 409.3,39.6 409.8,39.2 410.3,39.7 410.8,39.3 411.3,39.4 411.8,39.1 412.3,38.5 412.8,38.7 413.3,38.3 413.8,37.9 414.3,38.0 414.8,38.1 415.3,37.2 415.8,37.5 416.3,37.2 416.8,37.0 417.3,37.0 417.8,36.5 418.3,36.2 418.8,36.1 419.3,36.1 419.8,36.1 420.3,35.8 420.8,35.9 421.3,35.3 421.8,35.0 422.3,35.2 422.8,35.1 423.3,34.7 423.8,34.2 424.3,34.4 424.8,34.4 425.3,34.0 425.8,34.1 426.3,33.5 426.8,33.7 427.3,33.3 427.8,32.9 428.3,32.8 428.8,32.6 429.3,32.7 429.8,32.8 430.3,32.5 430.8,32.2 431.3,31.6 431.8,31.9 432.3,31.8 432.8,31.3 433.3,31.2 433.8,31.1 434.3,31.1 434.8,30.8 435.3,31.2 435.8,31.1 436.3,31.3 436.8,31.0 437.3,31.3 437.8,31.3 438.3,31.9 438.8,32.3 439.3,32.4 439.8,32.4 440.3,32.7 440.8,33.0 441.3,33.0 441.8,33.1 442.3,33.9 442.8,33.9 443.3,34.3 443.8,34.2 444.3,34.2 444.8,34.1 445.3,34.6 445.8,34.6 446.3,34.3 446.8,34.5 447.3,35.2 447.8,35.1 448.3,34.8 448.8,35.0 449.3,35.3 449.8,35.5 450.3,35.1 450.8,35.6 451.3,35.7 451.8,35.9 452.3,35.6 452.8,35.9 453.3,36.3 453.8,36.1 454.3,36.4 454.8,36.5 455.3,36.7 455.8,37.1 456.3,37.1 456.8,36.8 457.3,37.3 457.8,37.0 458.3,37.4 458.8,37.8 459.3,38.0 459.8,38.3 460.3,37.9 460.8,38.2 461.3,38.5 461.8,38.7 462.3,38.9 462.8,38.7 463.3,38.7 463.8,38.9 464.3,39.5 464.8,39.1 465.3,39.4 465.8,40.0 466.3,40.3 466.8,40.1 467.3,40.5 467.8,40.3 468.3,40.4 468.8,40.7 469.3,40.4 469.8,40.7 470.3,40.8 470.8,41.0 471.3,41.0 471.8,40.5 472.3,40.6 472.8,40.4 473.3,40.4 473.8,41.1 474.3,40.5 474.8,40.6 475.3,40.9 475.8,40.5 476.3,40.6 476.8,40.4 477.3,40.9 477.8,40.6 478.3,40.4 478.8,40.5 479.3,40.8 479.8,40.7 480.3,40.5 480.8,40.5 481.3,40.6 481.8,40.7 482.3,40.6 482.8,40.8 483.3,40.6 483.8,40.4 484.3,40.4 484.8,40.6 485.3,41.1 485.8,40.6 486.3,40.6 486.8,40.3 487.3,40.7 487.8,40.3 488.3,40.5 488.8,40.5 489.3,40.6 489.8,40.4 490.3,40.5 490.8,40.3 491.3,40.7 491.8,40.5 492.3,41.0 492.8,40.9 493.3,40.7 493.8,41.0 494.3,40.6 494.8,40.4 495.3,41.0 495.8,41.0 496.3,40.4 496.8,40.6 497.0,40.3 497.0,116.8 496.8,116.8 496.3,116.9 495.8,116.8 495.3,117.2 494.8,117.1 494.3,116.7 493.8,117.1 493.3,117.2 492.8,116.7 492.3,116.8 491.8,116.8 491.3,116.7 490.8,116.9 490.3,117.2 489.8,117.0 489.3,117.0 488.8,116.8 488.3,116.6 487.8,117.0 487.3,116.4 486.8,116.4 486.3,116.8 485.8,117.1 485.3,117.0 484.8,116.6 484.3,116.9 483.8,116.4 483.3,116.9 482.8,116.6 482.3,116.8 481.8,116.5 481.3,116.6 480.8,116.6 480.3,116.5 479.8,116.9 479.3,117.0 478.8,116.9 478.3,117.0 477.8,116.6 477.3,116.4 476.8,116.7 476.3,117.0 475.8,116.7 475.3,116.7 474.8,116.5 474.3,116.7 473.8,116.4 473.3,116.4 472.8,116.4 472.3,116.9 471.8,117.0 471.3,116.4 470.8,116.7 470.3,116.5 469.8,116.5 469.3,116.8 468.8,117.1 468.3,116.8 467.8,116.9 467.3,117.1 466.8,116.9 466.3,117.2 465.8,117.5 465.3,117.3 464.8,117.7 464.3,117.5 463.8,118.2 463.3,118.2 462.8,118.1 462.3,117.9 461.8,118.4 461.3,118.6 460.8,118.8 460.3,119.0 459.8,119.1 459.3,119.3 458.8,118.9 458.3,119.5 457.8,119.8 457.3,119.7 456.8,119.8 456.3,119.8 455.8,120.3 455.3,120.3 454.8,120.5 454.3,120.7 453.8,120.4 453.3,121.0 452.8,121.0 452.3,121.1 451.8,120.7 451.3,121.3 450.8,121.7 450.3,121.6 449.8,121.6 449.3,122.0 448.8,121.5 448.3,122.2 447.8,122.0 447.3,122.1 446.8,122.4 446.3,122.5 445.8,122.8 445.3,122.5 444.8,122.7 444.3,123.2 443.8,123.0 443.3,123.2 442.8,123.7 442.3,123.7 441.8,124.2 441.3,124.3 440.8,124.9 440.3,125.0 439.8,125.1 439.3,125.8 438.8,125.4 438.3,125.8 437.8,125.6 437.3,125.7 436.8,126.1 436.3,125.6 435.8,125.6 435.3,125.9 434.8,125.7 434.3,125.7 433.8,126.1 433.3,125.7 432.8,125.9 432.3,126.2 431.8,126.1 431.3,125.7 430.8,125.2 430.3,124.9 429.8,125.1 429.3,124.8 428.8,124.6 428.3,124.2 427.8,124.5 427.3,124.1 426.8,124.3 426.3,123.9 425.8,123.9 425.3,123.7 424.8,123.4 424.3,123.0 423.8,123.2 423.3,122.6 422.8,122.5 422.3,122.3 421.8,121.9 421.3,122.3 420.8,122.1 420.3,121.4 419.8,121.6 419.3,121.5 418.8,120.8 418.3,121.2 417.8,120.4 417.3,120.3 416.8,120.4 416.3,120.5 415.8,119.6 415.3,119.6 414.8,119.9 414.3,119.7 413.8,119.4 413.3,119.1 412.8,118.6 412.3,118.7 411.8,118.8 411.3,118.1 410.8,118.1 410.3,118.2 409.8,117.9 409.3,117.9 408.8,117.8 408.3,117.2 407.8,117.5 407.3,116.7 406.8,116.8 406.3,116.4 405.8,116.8 405.3,116.9 404.8,117.0 404.3,116.5 403.8,116.6 403.3,117.0 402.8,117.0 402.3,117.1 401.8,116.5 401.3,116.9 400.8,117.2 400.3,117.0 399.8,117.1 399.3,116.9 398.8,117.3 398.3,117.5 397.8,117.3 397.3,117.5 396.8,118.1 396.3,117.8 395.8,118.1 395.3,118.2 394.8,118.2 394.3,118.4 393.8,118.7 393.3,119.3 392.8,119.4 392.3,119.8 391.8,120.0 391.3,120.1 390.8,120.4 390.3,120.4 389.8,120.3 389.3,120.8 388.8,121.3 388.3,121.2 387.8,121.2 387.3,121.6 386.8,121.8 386.3,121.8 385.8,122.1 385.3,121.7 384.8,121.9 384.3,122.5 383.8,122.7 383.3,122.9 382.8,122.5 382.3,122.6 381.8,122.7 381.3,123.3 380.8,123.1 380.3,123.8 379.8,124.0 379.3,124.2 378.8,124.1 378.3,124.7 377.8,124.3 377.3,125.2 376.8,125.0 376.3,125.1 375.8,125.4 375.3,125.7 374.8,126.3 374.3,125.7 373.8,125.7 373.3,126.1 372.8,126.5 372.3,126.1 371.8,126.5 371.3,126.1 370.8,126.3 370.3,126.5 369.8,126.4 369.3,126.2 368.8,125.5 368.3,125.4 367.8,125.8 367.3,125.6 366.8,125.4 366.3,124.9 365.8,125.2 365.3,124.8 364.8,124.8 364.3,124.9 363.8,124.3 363.3,124.2 362.8,124.5 362.3,124.3 361.8,124.4 361.3,124.2 360.8,123.7 360.3,123.8 359.8,123.7 359.3,123.7 358.8,123.4 358.3,122.8 357.8,122.8 357.3,122.9 356.8,122.5 356.3,122.7 355.8,122.1 355.3,121.8 354.8,121.9 354.3,121.9 353.8,121.8 353.3,121.4 352.8,121.5 352.3,121.6 351.8,121.4 351.3,120.8 350.8,121.2 350.3,121.2 349.8,120.9 349.3,120.4 348.8,120.2 348.3,120.0 347.8,120.3 347.3,120.4 346.8,120.1 346.3,119.6 345.8,119.6 345.3,119.8 344.8,119.3 344.3,119.1 343.8,118.9 343.3,119.0 342.8,118.5 342.3,117.9 341.8,118.3 341.3,118.1 340.8,117.6 340.3,117.7 339.8,117.4 339.3,117.3 338.8,117.1 338.3,116.9 337.8,117.0 337.3,116.8 336.8,116.9 336.3,116.9 335.8,116.6 335.3,116.5 334.8,117.0 334.3,116.7 333.8,116.7 333.3,117.1 332.8,116.5 332.3,116.8 331.8,116.6 331.3,116.6 330.8,116.6 330.3,116.5 329.8,116.8 329.3,117.0 328.8,116.5 328.3,117.0 327.8,116.9" fill="#0B72C4"/>
<polygon points="327.8,41.3 328.3,41.2 328.8,41.0 329.3,41.0 329.8,41.2 330.3,41.1 330.8,41.3 331.3,41.0 331.8,41.1 332.3,41.2 332.8,41.2 333.3,41.1 333.8,41.2 334.3,41.1 334.8,41.1 335.3,41.1 335.8,41.2 336.3,41.2 336.8,41.0 337.3,41.2 337.8,41.3 338.3,41.1 338.8,41.3 339.3,41.2 339.8,41.1 340.3,41.0 340.8,41.2 341.3,41.1 341.8,41.3 342.3,41.2 342.8,41.1 343.3,41.0 343.8,40.9 344.3,40.8 344.8,40.5 345.3,40.3 345.8,40.1 346.3,40.2 346.8,39.8 347.3,39.6 347.8,39.7 348.3,39.6 348.8,39.3 349.3,39.3 349.8,39.2 350.3,38.9 350.8,38.6 351.3,38.5 351.8,38.4 352.3,38.2 352.8,38.0 353.3,38.0 353.8,37.9 354.3,37.8 354.8,37.7 355.3,37.5 355.8,37.5 356.3,37.1 356.8,37.1 357.3,36.9 357.8,36.7 358.3,36.5 358.8,36.5 359.3,36.4 359.8,36.1 360.3,35.9 360.8,35.8 361.3,35.8 361.8,35.8 362.3,35.4 362.8,35.3 363.3,35.4 363.8,35.1 364.3,35.1 364.8,35.0 365.3,34.7 365.8,34.8 366.3,34.5 366.8,34.4 367.3,34.4 367.8,34.2 368.3,33.9 368.8,33.8 369.3,33.9 369.8,33.7 370.3,33.7 370.8,33.6 371.3,33.6 371.8,33.6 372.3,33.7 372.8,33.9 373.3,33.8 373.8,33.6 374.3,33.8 374.8,33.8 375.3,34.2 375.8,34.4 376.3,34.4 376.8,34.6 377.3,34.7 377.8,34.8 378.3,35.1 378.8,35.0 379.3,35.4 379.8,35.6 380.3,35.6 380.8,35.9 381.3,35.9 381.8,36.3 382.3,36.3 382.8,36.5 383.3,36.7 383.8,36.7 384.3,37.1 384.8,37.1 385.3,37.4 385.8,37.5 386.3,37.8 386.8,37.9 387.3,37.9 387.8,38.2 388.3,38.5 388.8,38.4 389.3,38.6 389.8,38.8 390.3,39.2 390.8,39.3 391.3,39.4 391.8,39.8 392.3,39.9 392.8,40.2 393.3,40.5 393.8,40.7 394.3,40.9 394.8,40.9 395.3,41.2 395.8,41.2 396.3,41.1 396.8,41.2 397.3,41.2 397.8,41.0 398.3,41.1 398.8,41.2 399.3,41.0 399.8,41.1 400.3,41.1 400.8,41.2 401.3,41.0 401.8,41.2 402.3,41.2 402.8,41.1 403.3,41.1 403.8,41.0 404.3,41.3 404.8,41.3 405.3,41.3 405.8,41.1 406.3,41.3 406.8,41.1 407.3,41.0 407.8,41.1 408.3,41.0 408.8,41.0 409.3,41.2 409.8,41.3 410.3,41.3 410.8,41.1 411.3,40.8 411.8,40.5 412.3,40.6 412.8,40.2 413.3,40.3 413.8,40.1 414.3,39.7 414.8,39.8 415.3,39.5 415.8,39.3 416.3,39.3 416.8,38.9 417.3,38.9 417.8,38.5 418.3,38.6 418.8,38.4 419.3,38.1 419.8,37.8 420.3,38.0 420.8,37.6 421.3,37.6 421.8,37.5 422.3,37.1 422.8,36.9 423.3,36.7 423.8,36.6 424.3,36.4 424.8,36.1 425.3,35.9 425.8,36.0 426.3,35.9 426.8,35.5 427.3,35.5 427.8,35.2 428.3,34.9 428.8,34.9 429.3,34.7 429.8,34.6 430.3,34.5 430.8,34.1 431.3,33.8 431.8,33.8 432.3,33.6 432.8,33.5 433.3,33.4 433.8,33.1 434.3,33.2 434.8,33.3 435.3,33.3 435.8,33.1 436.3,33.2 436.8,33.3 437.3,33.5 437.8,33.5 438.3,33.7 438.8,33.9 439.3,34.3 439.8,34.3 440.3,34.7 440.8,35.1 441.3,35.2 441.8,35.5 442.3,35.8 442.8,36.1 443.3,36.0 443.8,36.1 444.3,36.3 444.8,36.4 445.3,36.4 445.8,36.7 446.3,36.8 446.8,36.9 447.3,36.8 447.8,36.9 448.3,36.9 448.8,37.3 449.3,37.3 449.8,37.4 450.3,37.4 450.8,37.4 451.3,37.5 451.8,37.6 452.3,38.1 452.8,37.9 453.3,38.2 453.8,38.4 454.3,38.5 454.8,38.5 455.3,38.7 455.8,38.8 456.3,39.0 456.8,38.9 457.3,39.1 457.8,39.3 458.3,39.5 458.8,39.6 459.3,39.6 459.8,40.0 460.3,39.9 460.8,40.1 461.3,40.5 461.8,40.6 462.3,40.6 462.8,40.7 463.3,40.6 463.8,40.8 464.3,40.7 464.8,40.8 465.3,40.9 465.8,40.9 466.3,41.1 466.8,40.9 467.3,40.9 467.8,41.2 468.3,40.9 468.8,41.0 469.3,41.2 469.8,41.0 470.3,41.0 470.8,41.2 471.3,41.1 471.8,41.0 472.3,41.0 472.8,41.2 473.3,41.1 473.8,41.2 474.3,41.3 474.8,41.3 475.3,41.2 475.8,41.1 476.3,41.2 476.8,41.3 477.3,41.3 477.8,41.1 478.3,41.3 478.8,41.3 479.3,41.1 479.8,41.2 480.3,41.1 480.8,41.0 481.3,41.3 481.8,41.3 482.3,41.0 482.8,41.0 483.3,41.3 483.8,41.0 484.3,41.1 484.8,41.2 485.3,41.2 485.8,41.3 486.3,41.1 486.8,41.1 487.3,41.0 487.8,41.1 488.3,41.2 488.8,41.1 489.3,41.2 489.8,41.2 490.3,41.2 490.8,41.1 491.3,41.1 491.8,41.3 492.3,41.1 492.8,41.0 493.3,41.0 493.8,41.1 494.3,41.0 494.8,41.3 495.3,41.0 495.8,41.3 496.3,41.2 496.8,41.3 497.0,41.1 497.0,115.7 496.8,115.7 496.3,115.7 495.8,115.6 495.3,115.5 494.8,115.7 494.3,115.4 493.8,115.7 493.3,115.7 492.8,115.7 492.3,115.6 491.8,115.7 491.3,115.5 490.8,115.5 490.3,115.5 489.8,115.5 489.3,115.6 488.8,115.5 488.3,115.5 487.8,115.8 487.3,115.5 486.8,115.7 486.3,115.5 485.8,115.6 485.3,115.8 484.8,115.7 484.3,115.7 483.8,115.6 483.3,115.6 482.8,115.5 482.3,115.8 481.8,115.6 481.3,115.7 480.8,115.5 480.3,115.7 479.8,115.7 479.3,115.6 478.8,115.5 478.3,115.7 477.8,115.8 477.3,115.6 476.8,115.5 476.3,115.5 475.8,115.5 475.3,115.6 474.8,115.7 474.3,115.4 473.8,115.4 473.3,115.6 472.8,115.8 472.3,115.7 471.8,115.7 471.3,115.7 470.8,115.7 470.3,115.5 469.8,115.4 469.3,115.6 468.8,115.8 468.3,115.5 467.8,115.8 467.3,115.8 466.8,115.8 466.3,115.9 465.8,115.8 465.3,115.8 464.8,115.9 464.3,115.8 463.8,115.6 463.3,115.8 462.8,115.9 462.3,116.0 461.8,116.1 461.3,116.1 460.8,116.5 460.3,116.6 459.8,116.9 459.3,117.0 458.8,117.2 458.3,117.0 457.8,117.1 457.3,117.5 456.8,117.6 456.3,117.6 455.8,117.9 455.3,117.9 454.8,118.2 454.3,118.1 453.8,118.3 453.3,118.3 452.8,118.5 452.3,118.6 451.8,118.7 451.3,119.0 450.8,119.2 450.3,119.1 449.8,119.4 449.3,119.4 448.8,119.7 448.3,119.6 447.8,120.0 447.3,119.8 446.8,120.1 446.3,120.3 445.8,120.4 445.3,120.6 444.8,120.6 444.3,120.5 443.8,120.9 443.3,121.0 442.8,121.3 442.3,121.5 441.8,121.9 441.3,122.1 440.8,122.3 440.3,122.5 439.8,122.8 439.3,123.1 438.8,123.6 438.3,123.6 437.8,123.7 437.3,123.7 436.8,123.7 436.3,123.6 435.8,123.9 435.3,123.8 434.8,123.7 434.3,123.8 433.8,123.9 433.3,123.6 432.8,123.7 432.3,123.6 431.8,123.7 431.3,123.5 430.8,123.4 430.3,123.1 429.8,122.7 429.3,122.9 428.8,122.6 428.3,122.2 427.8,122.3 427.3,122.0 426.8,121.9 426.3,121.8 425.8,121.4 425.3,121.4 424.8,120.9 424.3,120.8 423.8,120.7 423.3,120.7 422.8,120.4 422.3,120.2 421.8,119.8 421.3,119.9 420.8,119.5 420.3,119.4 419.8,119.4 419.3,119.2 418.8,119.0 418.3,118.7 417.8,118.7 417.3,118.4 416.8,118.0 416.3,118.1 415.8,117.8 415.3,117.6 414.8,117.7 414.3,117.5 413.8,117.4 413.3,117.3 412.8,117.0 412.3,116.8 411.8,116.8 411.3,116.8 410.8,116.5 410.3,116.3 409.8,116.3 409.3,116.1 408.8,116.3 408.3,115.9 407.8,115.8 407.3,116.0 406.8,115.8 406.3,115.8 405.8,115.6 405.3,115.4 404.8,115.5 404.3,115.7 403.8,115.7 403.3,115.6 402.8,115.6 402.3,115.6 401.8,115.8 401.3,115.6 400.8,115.5 400.3,115.9 399.8,115.6 399.3,115.9 398.8,115.7 398.3,116.0 397.8,116.0 397.3,116.0 396.8,115.9 396.3,116.2 395.8,116.0 395.3,116.3 394.8,116.1 394.3,116.3 393.8,116.7 393.3,117.0 392.8,117.2 392.3,117.3 391.8,117.6 391.3,118.0 390.8,118.0 390.3,118.4 389.8,118.4 389.3,118.6 388.8,118.7 388.3,118.8 387.8,119.1 387.3,119.2 386.8,119.2 386.3,119.5 385.8,119.8 385.3,119.8 384.8,119.8 384.3,120.0 383.8,120.3 383.3,120.5 382.8,120.4 382.3,120.7 381.8,120.7 381.3,121.1 380.8,121.1 380.3,121.2 379.8,121.4 379.3,121.8 378.8,122.1 378.3,122.1 377.8,122.5 377.3,122.8 376.8,122.9 376.3,123.0 375.8,123.4 375.3,123.5 374.8,123.9 374.3,123.9 373.8,124.0 373.3,124.0 372.8,124.0 372.3,124.1 371.8,124.2 371.3,123.9 370.8,124.1 370.3,123.8 369.8,123.9 369.3,123.8 368.8,123.5 368.3,123.7 367.8,123.4 367.3,123.4 366.8,123.2 366.3,123.1 365.8,122.9 365.3,122.8 364.8,122.5 364.3,122.5 363.8,122.4 363.3,122.3 362.8,122.3 362.3,121.8 361.8,122.0 361.3,121.6 360.8,121.6 360.3,121.3 359.8,121.2 359.3,121.2 358.8,121.1 358.3,120.9 357.8,120.6 357.3,120.6 356.8,120.3 356.3,120.2 355.8,120.1 355.3,119.9 354.8,119.9 354.3,119.6 353.8,119.6 353.3,119.5 352.8,119.2 352.3,119.3 351.8,119.0 351.3,118.9 350.8,118.9 350.3,118.8 349.8,118.4 349.3,118.4 348.8,118.3 348.3,118.0 347.8,117.8 347.3,118.0 346.8,117.9 346.3,117.5 345.8,117.7 345.3,117.3 344.8,117.3 344.3,117.0 343.8,116.9 343.3,116.9 342.8,116.8 342.3,116.7 341.8,116.5 341.3,116.2 340.8,116.1 340.3,116.1 339.8,116.0 339.3,115.8 338.8,115.8 338.3,115.6 337.8,115.5 337.3,115.7 336.8,115.4 336.3,115.5 335.8,115.8 335.3,115.8 334.8,115.7 334.3,115.6 333.8,115.8 333.3,115.5 332.8,115.5 332.3,115.5 331.8,115.4 331.3,115.6 330.8,115.7 330.3,115.6 329.8,115.7 329.3,115.6 328.8,115.5 328.3,115.5 327.8,115.7" fill="#FA570C"/>
<polygon points="327.8,41.5 328.3,41.5 328.8,41.5 329.3,41.5 329.8,41.5 330.3,41.5 330.8,41.5 331.3,41.5 331.8,41.5 332.3,41.5 332.8,41.4 333.3,41.5 333.8,41.4 334.3,41.5 334.8,41.4 335.3,41.4 335.8,41.4 336.3,41.5 336.8,41.5 337.3,41.5 337.8,41.4 338.3,41.6 338.8,41.9 339.3,42.6 339.8,43.4 340.3,44.3 340.8,44.9 341.3,45.6 341.8,46.0 342.3,46.6 342.8,47.1 343.3,47.7 343.8,47.9 344.3,48.3 344.8,48.7 345.3,48.8 345.8,49.1 346.3,49.4 346.8,49.5 347.3,49.8 347.8,50.1 348.3,50.2 348.8,50.6 349.3,50.8 349.8,51.1 350.3,51.4 350.8,51.5 351.3,51.7 351.8,52.0 352.3,52.1 352.8,52.3 353.3,52.5 353.8,52.7 354.3,53.0 354.8,53.1 355.3,53.2 355.8,53.4 356.3,53.7 356.8,53.8 357.3,54.0 357.8,54.2 358.3,54.4 358.8,54.4 359.3,54.7 359.8,54.8 360.3,55.1 360.8,55.2 361.3,55.4 361.8,55.5 362.3,55.6 362.8,55.7 363.3,55.8 363.8,56.0 364.3,56.2 364.8,56.1 365.3,56.5 365.8,56.5 366.3,56.6 366.8,56.8 367.3,57.0 367.8,57.1 368.3,57.2 368.8,57.3 369.3,57.3 369.8,57.5 370.3,57.5 370.8,57.5 371.3,57.5 371.8,57.7 372.3,57.7 372.8,57.9 373.3,57.9 373.8,57.8 374.3,57.7 374.8,57.3 375.3,57.1 375.8,56.9 376.3,56.6 376.8,56.6 377.3,56.2 377.8,56.2 378.3,56.1 378.8,55.8 379.3,55.6 379.8,55.6 380.3,55.4 380.8,55.3 381.3,55.1 381.8,55.0 382.3,54.8 382.8,54.6 383.3,54.6 383.8,54.3 384.3,54.0 384.8,54.0 385.3,53.7 385.8,53.5 386.3,53.3 386.8,53.1 387.3,52.9 387.8,52.6 388.3,52.3 388.8,52.2 389.3,52.0 389.8,51.6 390.3,51.3 390.8,50.8 391.3,50.5 391.8,49.9 392.3,49.5 392.8,49.0 393.3,48.6 393.8,48.0 394.3,47.6 394.8,47.1 395.3,46.7 395.8,46.0 396.3,45.5 396.8,45.1 397.3,44.5 397.8,44.1 398.3,43.8 398.8,43.3 399.3,43.0 399.8,42.5 400.3,42.0 400.8,41.9 401.3,41.6 401.8,41.8 402.3,41.7 402.8,41.7 403.3,41.7 403.8,41.7 404.3,41.9 404.8,42.0 405.3,42.4 405.8,42.9 406.3,43.3 406.8,44.0 407.3,44.4 407.8,44.8 408.3,45.1 408.8,45.5 409.3,45.9 409.8,46.3 410.3,46.6 410.8,47.0 411.3,47.2 411.8,47.6 412.3,47.8 412.8,48.2 413.3,48.5 413.8,48.8 414.3,49.1 414.8,49.6 415.3,49.9 415.8,50.2 416.3,50.3 416.8,50.7 417.3,50.9 417.8,51.1 418.3,51.4 418.8,51.6 419.3,51.9 419.8,52.2 420.3,52.3 420.8,52.6 421.3,52.9 421.8,53.2 422.3,53.4 422.8,53.6 423.3,53.9 423.8,54.2 424.3,54.3 424.8,54.4 425.3,54.8 425.8,54.9 426.3,55.1 426.8,55.3 427.3,55.5 427.8,55.8 428.3,56.0 428.8,56.3 429.3,56.3 429.8,56.6 430.3,56.8 430.8,57.0 431.3,57.2 431.8,57.1 432.3,57.2 432.8,57.3 433.3,57.4 433.8,57.4 434.3,57.6 434.8,57.6 435.3,57.8 435.8,57.8 436.3,57.8 436.8,57.6 437.3,57.5 437.8,57.4 438.3,57.2 438.8,56.9 439.3,56.7 439.8,56.5 440.3,56.3 440.8,56.2 441.3,56.0 441.8,55.8 442.3,55.7 442.8,55.6 443.3,55.4 443.8,55.2 444.3,55.1 444.8,55.0 445.3,54.7 445.8,54.6 446.3,54.4 446.8,54.2 447.3,54.2 447.8,54.0 448.3,53.9 448.8,53.8 449.3,53.7 449.8,53.5 450.3,53.5 450.8,53.2 451.3,53.3 451.8,53.1 452.3,53.0 452.8,52.9 453.3,52.7 453.8,52.6 454.3,52.4 454.8,52.3 455.3,52.2 455.8,52.1 456.3,52.1 456.8,51.9 457.3,51.5 457.8,51.1 458.3,50.7 458.8,50.4 459.3,50.1 459.8,49.6 460.3,49.2 460.8,48.8 461.3,48.5 461.8,48.1 462.3,47.7 462.8,47.2 463.3,46.6 463.8,46.2 464.3,45.6 464.8,45.2 465.3,44.7 465.8,44.3 466.3,43.8 466.8,43.2 467.3,42.7 467.8,42.3 468.3,41.8 468.8,41.7 469.3,41.4 469.8,41.5 470.3,41.5 470.8,41.5 471.3,41.5 471.8,41.5 472.3,41.4 472.8,41.4 473.3,41.5 473.8,41.4 474.3,41.5 474.8,41.5 475.3,41.4 475.8,41.5 476.3,41.5 476.8,41.4 477.3,41.4 477.8,41.4 478.3,41.4 478.8,41.4 479.3,41.4 479.8,41.5 480.3,41.5 480.8,41.5 481.3,41.4 481.8,41.5 482.3,41.5 482.8,41.5 483.3,41.4 483.8,41.4 484.3,41.4 484.8,41.4 485.3,41.5 485.8,41.5 486.3,41.5 486.8,41.5 487.3,41.5 487.8,41.5 488.3,41.5 488.8,41.5 489.3,41.4 489.8,41.5 490.3,41.5 490.8,41.5 491.3,41.5 491.8,41.5 492.3,41.4 492.8,41.5 493.3,41.4 493.8,41.4 494.3,41.4 494.8,41.5 495.3,41.4 495.8,41.5 496.3,41.4 496.8,41.4 497.0,41.4 497.0,115.1 496.8,114.9 496.3,114.9 495.8,115.1 495.3,115.0 494.8,115.0 494.3,115.0 493.8,115.0 493.3,115.0 492.8,115.0 492.3,115.0 491.8,115.0 491.3,114.9 490.8,114.8 490.3,114.8 489.8,115.0 489.3,114.9 488.8,115.0 488.3,114.9 487.8,114.9 487.3,114.9 486.8,114.8 486.3,115.0 485.8,114.9 485.3,114.9 484.8,114.8 484.3,114.8 483.8,114.9 483.3,114.9 482.8,114.9 482.3,114.8 481.8,114.8 481.3,114.8 480.8,114.9 480.3,114.7 479.8,114.8 479.3,114.9 478.8,114.8 478.3,114.9 477.8,114.9 477.3,114.7 476.8,114.8 476.3,114.8 475.8,114.8 475.3,114.7 474.8,114.8 474.3,114.7 473.8,114.7 473.3,114.8 472.8,114.8 472.3,114.8 471.8,114.7 471.3,114.7 470.8,114.7 470.3,114.8 469.8,114.8 469.3,114.6 468.8,114.3 468.3,114.0 467.8,113.5 467.3,113.0 466.8,112.4 466.3,111.9 465.8,111.7 465.3,111.2 464.8,110.8 464.3,110.6 463.8,110.1 463.3,109.8 462.8,109.5 462.3,108.9 461.8,108.8 461.3,108.4 460.8,108.2 460.3,107.8 459.8,107.6 459.3,107.2 458.8,106.9 458.3,106.6 457.8,106.5 457.3,106.0 456.8,105.8 456.3,105.6 455.8,105.3 455.3,105.1 454.8,104.8 454.3,104.8 453.8,104.6 453.3,104.3 452.8,104.3 452.3,104.2 451.8,103.9 451.3,103.9 450.8,103.7 450.3,103.5 449.8,103.4 449.3,103.2 448.8,103.0 448.3,103.0 447.8,102.8 447.3,102.6 446.8,102.5 446.3,102.2 445.8,102.0 445.3,101.9 444.8,101.8 444.3,101.6 443.8,101.4 443.3,101.1 442.8,101.0 442.3,100.8 441.8,100.6 441.3,100.4 440.8,100.3 440.3,100.1 439.8,100.1 439.3,99.9 438.8,99.8 438.3,99.7 437.8,99.6 437.3,99.4 436.8,99.3 436.3,99.3 435.8,99.1 435.3,99.2 434.8,99.1 434.3,99.1 433.8,99.1 433.3,99.2 432.8,99.2 432.3,99.4 431.8,99.7 431.3,99.7 430.8,99.8 430.3,100.0 429.8,100.0 429.3,100.3 428.8,100.6 428.3,100.8 427.8,101.0 427.3,101.2 426.8,101.6 426.3,101.7 425.8,102.0 425.3,102.2 424.8,102.6 424.3,102.7 423.8,103.0 423.3,103.2 422.8,103.6 422.3,103.8 421.8,104.0 421.3,104.4 420.8,104.5 420.3,104.8 419.8,105.1 419.3,105.3 418.8,105.6 418.3,105.8 417.8,106.1 417.3,106.3 416.8,106.5 416.3,106.8 415.8,107.0 415.3,107.3 414.8,107.6 414.3,108.0 413.8,108.3 413.3,108.7 412.8,109.0 412.3,109.4 411.8,109.8 411.3,110.2 410.8,110.4 410.3,110.8 409.8,111.1 409.3,111.4 408.8,111.8 408.3,112.3 407.8,112.6 407.3,113.0 406.8,113.3 406.3,113.6 405.8,113.9 405.3,114.3 404.8,114.6 404.3,114.7 403.8,114.8 403.3,114.8 402.8,114.8 402.3,114.7 401.8,114.9 401.3,114.7 400.8,114.8 400.3,114.7 399.8,114.5 399.3,113.9 398.8,113.6 398.3,113.1 397.8,112.7 397.3,112.2 396.8,111.9 396.3,111.3 395.8,111.0 395.3,110.5 394.8,110.0 394.3,109.6 393.8,108.9 393.3,108.5 392.8,107.9 392.3,107.4 391.8,106.9 391.3,106.7 390.8,106.3 390.3,106.0 389.8,105.8 389.3,105.5 388.8,105.1 388.3,104.9 387.8,104.6 387.3,104.2 386.8,103.9 386.3,103.6 385.8,103.5 385.3,103.2 384.8,103.1 384.3,102.8 383.8,102.5 383.3,102.4 382.8,102.3 382.3,102.0 381.8,101.7 381.3,101.5 380.8,101.3 380.3,101.1 379.8,101.0 379.3,100.8 378.8,100.7 378.3,100.6 377.8,100.4 377.3,100.2 376.8,100.2 376.3,99.9 375.8,99.9 375.3,99.8 374.8,99.6 374.3,99.5 373.8,99.3 373.3,99.3 372.8,99.2 372.3,99.4 371.8,99.3 371.3,99.4 370.8,99.5 370.3,99.5 369.8,99.5 369.3,99.6 368.8,99.7 368.3,99.7 367.8,99.8 367.3,99.8 366.8,100.0 366.3,100.1 365.8,100.1 365.3,100.3 364.8,100.5 364.3,100.7 363.8,100.8 363.3,101.0 362.8,100.9 362.3,101.2 361.8,101.3 361.3,101.5 360.8,101.5 360.3,101.8 359.8,102.0 359.3,102.0 358.8,102.2 358.3,102.5 357.8,102.6 357.3,102.9 356.8,103.1 356.3,103.3 355.8,103.4 355.3,103.7 354.8,103.9 354.3,104.1 353.8,104.4 353.3,104.6 352.8,104.7 352.3,104.9 351.8,105.1 351.3,105.5 350.8,105.6 350.3,105.9 349.8,106.1 349.3,106.4 348.8,106.6 348.3,106.9 347.8,107.0 347.3,107.3 346.8,107.7 346.3,107.9 345.8,108.3 345.3,108.6 344.8,109.0 344.3,109.4 343.8,109.8 343.3,110.1 342.8,110.4 342.3,110.9 341.8,111.1 341.3,111.8 340.8,112.3 340.3,113.0 339.8,113.6 339.3,114.2 338.8,114.7 338.3,115.0 337.8,114.9 337.3,115.1 336.8,114.9 336.3,114.9 335.8,115.1 335.3,115.0 334.8,115.1 334.3,115.0 333.8,115.0 333.3,115.1 332.8,114.9 332.3,115.1 331.8,115.1 331.3,114.9 330.8,115.0 330.3,115.0 329.8,115.1 329.3,115.0 328.8,114.9 328.3,115.0 327.8,114.9" fill="#FFB000"/>
<text class="tk" x="331.3" y="168.4" text-anchor="middle">0</text>
<text class="tk" x="399.2" y="168.4" text-anchor="middle">20</text>
<text class="tk" x="466.5" y="168.4" text-anchor="middle">40</text>
<text class="tk" x="533.8" y="168.4" text-anchor="middle">60</text>
<text class="tk" x="326.9" y="16.6" text-anchor="end">4</text>
<text class="tk" x="326.9" y="51.4" text-anchor="end">2</text>
<text class="tk" x="326.9" y="86.2" text-anchor="end">0</text>
<text class="tk" x="326.9" y="121.0" text-anchor="end">-2</text>
<text class="tk" x="326.9" y="155.8" text-anchor="end">-4</text>
<text class="lx" x="432.5" y="186.4" text-anchor="middle" textLength="13.5" lengthAdjust="spacing">t/s</text>
<text class="lb" transform="translate(309.3,77.2) rotate(-90)" text-anchor="middle" textLength="56" lengthAdjust="spacing">Current/A</text>
<rect x="457.3" y="17.8" width="64.80" height="49.50" fill="#fff" stroke="#2c2c2c" stroke-width="1.1"/>
<line x1="461.3" y1="27.55" x2="503.5" y2="27.55" stroke="#0B72C4" stroke-width="1.25"/>
<text class="lg" x="509.8" y="33.0">U</text>
<line x1="461.3" y1="43.00" x2="503.5" y2="43.00" stroke="#FF7A40" stroke-width="1.7"/>
<text class="lg" x="509.8" y="48.4">V</text>
<line x1="461.3" y1="58.10" x2="503.5" y2="58.10" stroke="#FFB414" stroke-width="1.5"/>
<text class="lg" x="509.8" y="63.5">W</text>
<text class="pl" x="274.6" y="33">b)</text>
<rect x="53.8" y="210.0" width="202.25" height="138.80" fill="none" stroke="#2c2c2c" stroke-width="1.1"/>
<path d="M121.22 348.8v-2.2M121.22 210.0v2.2M188.63 348.8v-2.2M188.63 210.0v2.2M53.8 244.70h2.2M256.05 244.70h-2.2M53.8 279.40h2.2M256.05 279.40h-2.2M53.8 314.10h2.2M256.05 314.10h-2.2" stroke="#2c2c2c" stroke-width="1.1" fill="none"/>
<polygon points="53.3,233.1 53.8,233.5 54.3,233.1 54.8,233.5 55.3,233.6 55.8,233.5 56.3,233.5 56.8,233.4 57.3,233.7 57.8,233.5 58.3,233.5 58.8,233.5 59.3,233.1 59.8,233.2 60.3,233.3 60.8,233.5 61.3,233.3 61.8,233.6 62.3,233.2 62.8,233.3 63.3,233.0 63.8,233.6 64.3,233.7 64.8,233.1 65.3,233.6 65.8,233.4 66.3,233.1 66.8,233.2 67.3,233.6 67.8,233.1 68.3,233.5 68.8,233.3 69.3,233.6 69.8,233.0 70.3,233.6 70.8,233.2 71.3,232.9 71.8,233.2 72.3,233.2 72.8,233.0 73.3,233.2 73.8,233.5 74.3,233.4 74.8,233.3 75.3,233.1 75.8,233.1 76.3,233.6 76.8,232.9 77.3,233.0 77.8,233.4 78.3,233.7 78.8,232.9 79.3,233.0 79.8,233.5 80.3,233.3 80.8,233.5 81.3,233.4 81.8,233.3 82.3,233.6 82.8,233.3 83.3,233.4 83.8,233.3 84.3,233.0 84.8,233.4 85.3,233.2 85.8,232.9 86.3,233.3 86.8,233.2 87.3,233.0 87.8,233.3 88.3,232.9 88.8,233.2 89.3,233.1 89.8,233.0 90.3,233.0 90.8,233.3 91.3,233.5 91.8,233.5 92.3,233.0 92.8,233.3 93.3,233.0 93.8,233.0 94.3,233.6 94.8,233.1 95.3,233.2 95.8,233.6 96.3,232.9 96.8,233.3 97.3,232.9 97.8,232.7 98.3,232.0 98.8,231.6 99.3,231.1 99.8,230.5 100.3,230.3 100.8,230.6 101.3,230.3 101.8,230.3 102.3,229.8 102.8,229.3 103.3,229.5 103.8,229.1 104.3,228.9 104.8,229.4 105.3,229.0 105.8,228.7 106.3,228.7 106.8,228.3 107.3,228.2 107.8,228.4 108.3,228.2 108.8,227.5 109.3,227.3 109.8,227.7 110.3,227.2 110.8,227.0 111.3,226.5 111.8,226.9 112.3,226.4 112.8,226.1 113.3,225.7 113.8,225.8 114.3,225.9 114.8,225.8 115.3,225.2 115.8,225.1 116.3,224.8 116.8,225.0 117.3,224.6 117.8,224.9 118.3,224.7 118.8,224.4 119.3,224.4 119.8,224.1 120.3,224.3 120.8,223.8 121.3,223.9 121.8,223.8 122.3,224.5 122.8,224.5 123.3,224.3 123.8,224.1 124.3,224.3 124.8,224.2 125.3,224.2 125.8,224.4 126.3,224.7 126.8,224.5 127.3,224.8 127.8,224.6 128.3,224.2 128.8,224.9 129.3,224.7 129.8,225.0 130.3,225.1 130.8,224.6 131.3,225.1 131.8,225.2 132.3,224.9 132.8,225.5 133.3,225.7 133.8,225.4 134.3,225.7 134.8,225.9 135.3,225.7 135.8,226.4 136.3,225.9 136.8,226.3 137.3,226.6 137.8,226.7 138.3,227.0 138.8,226.7 139.3,227.1 139.8,226.9 140.3,227.4 140.8,227.5 141.3,227.9 141.8,228.0 142.3,227.5 142.8,227.9 143.3,228.3 143.8,228.3 144.3,228.2 144.8,229.0 145.3,229.3 145.8,228.8 146.3,229.0 146.8,229.6 147.3,229.5 147.8,230.1 148.3,229.8 148.8,230.2 149.3,230.6 149.8,230.5 150.3,231.1 150.8,230.9 151.3,231.2 151.8,231.8 152.3,231.5 152.8,232.3 153.3,232.4 153.8,232.0 154.3,232.9 154.8,232.5 155.3,232.5 155.8,233.2 156.3,233.3 156.8,233.7 157.3,233.7 157.8,233.6 158.3,233.8 158.8,233.9 159.3,233.8 159.8,233.8 160.3,234.2 160.8,233.9 161.3,233.8 161.8,234.1 162.3,233.8 162.8,233.7 163.3,233.4 163.8,234.1 164.3,233.4 164.8,233.6 165.3,233.3 165.8,233.7 166.3,233.4 166.8,233.7 167.3,233.8 167.8,233.1 168.3,233.2 168.8,233.4 169.3,232.6 169.8,232.6 170.3,232.4 170.8,232.7 171.3,232.3 171.8,232.4 172.3,232.3 172.8,232.0 173.3,231.5 173.8,231.7 174.3,231.0 174.8,231.2 175.3,231.3 175.8,231.2 176.3,230.8 176.8,230.1 177.3,230.4 177.8,230.6 178.3,230.3 178.8,229.6 179.3,229.5 179.8,229.5 180.3,229.5 180.8,229.6 181.3,229.4 181.8,229.2 182.3,228.9 182.8,229.0 183.3,228.5 183.8,228.1 184.3,228.1 184.8,227.6 185.3,227.6 185.8,227.7 186.3,226.9 186.8,226.6 187.3,226.6 187.8,226.5 188.3,226.1 188.8,225.8 189.3,225.6 189.8,225.8 190.3,225.3 190.8,225.6 191.3,225.3 191.8,225.6 192.3,225.3 192.8,225.3 193.3,226.0 193.8,226.1 194.3,226.4 194.8,226.5 195.3,226.9 195.8,226.6 196.3,227.4 196.8,227.3 197.3,227.8 197.8,227.9 198.3,228.1 198.8,228.5 199.3,228.6 199.8,228.7 200.3,228.9 200.8,228.9 201.3,229.4 201.8,229.8 202.3,229.3 202.8,229.9 203.3,230.0 203.8,230.4 204.3,230.2 204.8,230.3 205.3,230.9 205.8,231.0 206.3,230.7 206.8,231.4 207.3,231.0 207.8,231.5 208.3,231.2 208.8,231.3 209.3,231.5 209.8,231.6 210.3,231.9 210.8,232.1 211.3,232.2 211.8,232.4 212.3,233.0 212.8,233.1 213.3,232.7 213.8,232.7 214.3,233.4 214.8,233.0 215.3,233.7 215.8,233.6 216.3,233.2 216.8,233.2 217.3,233.3 217.8,233.6 218.3,232.9 218.8,233.2 219.3,233.0 219.8,233.5 220.3,233.0 220.8,233.5 221.3,233.5 221.8,233.1 222.3,233.5 222.8,233.2 223.3,233.2 223.8,233.2 224.3,233.5 224.8,233.6 225.3,233.4 225.8,233.3 226.3,233.7 226.8,233.2 227.3,233.5 227.8,233.1 228.3,233.3 228.8,233.2 229.3,233.1 229.8,233.0 230.3,233.4 230.8,233.5 231.3,232.9 231.8,233.3 232.3,233.4 232.8,233.3 233.3,233.2 233.8,233.0 234.3,233.1 234.8,233.0 235.3,233.0 235.8,233.6 236.3,233.0 236.8,233.1 237.3,233.2 237.8,233.2 238.3,233.1 238.8,232.9 239.3,233.1 239.8,233.3 240.3,232.9 240.8,233.2 241.3,233.3 241.8,233.3 242.3,233.1 242.8,233.1 243.3,233.0 243.8,233.3 244.3,233.3 244.8,233.6 245.3,233.5 245.8,233.6 246.3,233.0 246.8,233.2 247.3,233.1 247.8,233.3 248.3,233.0 248.8,233.4 249.3,233.7 249.8,233.1 250.3,233.6 250.8,233.4 251.3,233.0 251.8,233.3 252.3,233.4 252.8,233.0 253.3,233.1 253.8,233.6 254.3,233.6 254.8,233.3 255.3,233.3 255.8,233.6 256.3,233.4 256.7,233.4 256.7,323.7 256.3,323.8 255.8,324.0 255.3,323.6 254.8,323.4 254.3,323.5 253.8,323.4 253.3,323.6 252.8,323.6 252.3,323.9 251.8,323.6 251.3,323.8 250.8,323.6 250.3,324.0 249.8,323.6 249.3,323.6 248.8,323.7 248.3,323.8 247.8,324.0 247.3,324.0 246.8,323.4 246.3,323.6 245.8,323.5 245.3,323.6 244.8,324.0 244.3,323.5 243.8,323.8 243.3,323.3 242.8,324.0 242.3,323.5 241.8,323.9 241.3,323.5 240.8,323.4 240.3,323.6 239.8,323.4 239.3,323.8 238.8,324.1 238.3,323.5 237.8,323.5 237.3,323.8 236.8,323.6 236.3,323.9 235.8,323.6 235.3,323.9 234.8,323.5 234.3,323.4 233.8,323.4 233.3,323.7 232.8,323.9 232.3,324.0 231.8,323.7 231.3,323.9 230.8,323.7 230.3,323.9 229.8,323.5 229.3,324.0 228.8,323.7 228.3,323.7 227.8,323.7 227.3,323.7 226.8,323.8 226.3,323.5 225.8,323.9 225.3,323.9 224.8,323.9 224.3,323.9 223.8,323.6 223.3,323.5 222.8,323.7 222.3,323.6 221.8,323.7 221.3,323.9 220.8,323.9 220.3,323.9 219.8,323.8 219.3,324.2 218.8,324.1 218.3,324.5 217.8,324.1 217.3,324.6 216.8,324.6 216.3,324.6 215.8,324.6 215.3,324.7 214.8,324.2 214.3,324.3 213.8,325.0 213.3,324.7 212.8,324.7 212.3,325.0 211.8,325.1 211.3,325.6 210.8,325.1 210.3,325.9 209.8,325.5 209.3,326.1 208.8,325.9 208.3,326.3 207.8,326.4 207.3,327.0 206.8,326.6 206.3,326.8 205.8,327.3 205.3,327.9 204.8,327.5 204.3,328.2 203.8,328.2 203.3,328.4 202.8,328.6 202.3,328.6 201.8,328.9 201.3,329.0 200.8,329.2 200.3,329.8 199.8,330.4 199.3,330.0 198.8,330.6 198.3,330.7 197.8,331.0 197.3,331.4 196.8,331.2 196.3,332.0 195.8,332.2 195.3,332.2 194.8,332.1 194.3,332.3 193.8,332.7 193.3,332.7 192.8,332.8 192.3,332.6 191.8,332.9 191.3,333.4 190.8,333.1 190.3,332.7 189.8,332.4 189.3,332.3 188.8,332.0 188.3,331.8 187.8,332.0 187.3,331.9 186.8,331.3 186.3,330.9 185.8,331.0 185.3,330.3 184.8,330.7 184.3,330.5 183.8,330.2 183.3,329.8 182.8,329.7 182.3,329.8 181.8,329.4 181.3,329.2 180.8,329.1 180.3,329.0 179.8,328.4 179.3,328.7 178.8,328.0 178.3,328.2 177.8,327.9 177.3,328.2 176.8,327.9 176.3,327.8 175.8,327.7 175.3,327.5 174.8,327.1 174.3,327.0 173.8,326.4 173.3,326.5 172.8,326.1 172.3,326.5 171.8,325.9 171.3,326.1 170.8,325.9 170.3,325.6 169.8,325.4 169.3,325.3 168.8,325.2 168.3,325.3 167.8,324.9 167.3,324.5 166.8,324.7 166.3,324.6 165.8,324.6 165.3,324.4 164.8,324.2 164.3,324.1 163.8,324.0 163.3,323.8 162.8,323.4 162.3,324.1 161.8,323.7 161.3,323.9 160.8,324.1 160.3,323.6 159.8,324.4 159.3,323.8 158.8,324.2 158.3,324.1 157.8,324.5 157.3,324.5 156.8,324.3 156.3,324.4 155.8,324.7 155.3,325.1 154.8,325.6 154.3,325.7 153.8,326.0 153.3,326.1 152.8,326.4 152.3,326.1 151.8,326.3 151.3,326.7 150.8,326.9 150.3,327.2 149.8,327.6 149.3,327.9 148.8,327.8 148.3,327.8 147.8,328.4 147.3,328.6 146.8,329.1 146.3,329.1 145.8,329.3 145.3,329.6 144.8,329.4 144.3,330.1 143.8,329.7 143.3,330.2 142.8,330.7 142.3,330.5 141.8,330.3 141.3,331.2 140.8,331.3 140.3,331.2 139.8,331.2 139.3,331.7 138.8,331.2 138.3,332.0 137.8,331.7 137.3,332.1 136.8,332.4 136.3,332.1 135.8,332.6 135.3,332.2 134.8,332.5 134.3,333.1 133.8,332.7 133.3,332.7 132.8,333.1 132.3,333.0 131.8,333.1 131.3,333.5 130.8,333.2 130.3,333.3 129.8,333.8 129.3,333.4 128.8,333.5 128.3,333.9 127.8,333.8 127.3,333.9 126.8,333.6 126.3,333.8 125.8,333.9 125.3,333.8 124.8,333.7 124.3,334.5 123.8,334.5 123.3,334.3 122.8,333.9 122.3,334.0 121.8,334.3 121.3,334.2 120.8,333.8 120.3,333.3 119.8,333.3 119.3,333.7 118.8,333.7 118.3,333.8 117.8,333.6 117.3,333.4 116.8,333.5 116.3,332.9 115.8,333.4 115.3,332.7 114.8,332.7 114.3,332.8 113.8,332.2 113.3,332.1 112.8,331.6 112.3,331.2 111.8,331.5 111.3,330.9 110.8,330.5 110.3,330.3 109.8,330.3 109.3,330.5 108.8,330.0 108.3,330.0 107.8,329.6 107.3,329.1 106.8,329.1 106.3,329.2 105.8,328.7 105.3,328.3 104.8,328.6 104.3,327.8 103.8,327.9 103.3,327.9 102.8,327.4 102.3,327.1 101.8,327.0 101.3,326.6 100.8,326.7 100.3,326.2 99.8,326.1 99.3,326.2 98.8,325.4 98.3,325.6 97.8,325.6 97.3,325.2 96.8,324.6 96.3,324.9 95.8,324.9 95.3,324.6 94.8,324.9 94.3,324.5 93.8,324.8 93.3,324.5 92.8,324.3 92.3,324.3 91.8,324.3 91.3,324.6 90.8,324.7 90.3,324.9 89.8,324.7 89.3,324.8 88.8,324.8 88.3,324.4 87.8,324.6 87.3,324.2 86.8,324.6 86.3,324.7 85.8,324.8 85.3,324.5 84.8,324.5 84.3,324.9 83.8,324.7 83.3,324.9 82.8,324.9 82.3,325.0 81.8,324.9 81.3,324.4 80.8,324.7 80.3,324.7 79.8,324.4 79.3,324.7 78.8,324.7 78.3,324.7 77.8,324.4 77.3,324.8 76.8,324.9 76.3,324.5 75.8,324.6 75.3,325.0 74.8,324.4 74.3,324.7 73.8,324.5 73.3,324.7 72.8,324.8 72.3,324.8 71.8,324.7 71.3,324.5 70.8,324.7 70.3,325.0 69.8,324.7 69.3,324.8 68.8,324.4 68.3,324.9 67.8,325.0 67.3,324.6 66.8,324.9 66.3,324.8 65.8,324.9 65.3,324.6 64.8,324.3 64.3,324.7 63.8,324.4 63.3,324.9 62.8,324.7 62.3,324.2 61.8,324.3 61.3,324.8 60.8,324.2 60.3,324.7 59.8,324.6 59.3,324.3 58.8,324.6 58.3,324.4 57.8,324.4 57.3,324.3 56.8,324.8 56.3,324.7 55.8,324.3 55.3,324.9 54.8,324.4 54.3,324.5 53.8,324.4 53.3,325.0" fill="#0B72C4"/>
<polygon points="53.3,233.5 53.8,233.4 54.3,233.3 54.8,233.3 55.3,233.5 55.8,233.5 56.3,233.4 56.8,233.4 57.3,233.3 57.8,233.2 58.3,233.2 58.8,233.4 59.3,233.4 59.8,233.3 60.3,233.5 60.8,233.5 61.3,233.4 61.8,233.5 62.3,233.5 62.8,233.4 63.3,233.4 63.8,233.3 64.3,233.6 64.8,233.5 65.3,233.4 65.8,233.5 66.3,233.3 66.8,233.4 67.3,233.5 67.8,233.3 68.3,233.5 68.8,233.3 69.3,233.3 69.8,233.4 70.3,233.4 70.8,233.3 71.3,233.4 71.8,233.2 72.3,233.3 72.8,233.2 73.3,233.2 73.8,233.4 74.3,233.4 74.8,233.5 75.3,233.3 75.8,233.3 76.3,233.6 76.8,233.3 77.3,233.5 77.8,233.4 78.3,233.2 78.8,233.4 79.3,233.5 79.8,233.5 80.3,233.4 80.8,233.4 81.3,233.3 81.8,233.4 82.3,233.3 82.8,233.4 83.3,233.3 83.8,233.3 84.3,233.4 84.8,233.5 85.3,233.5 85.8,233.4 86.3,233.5 86.8,233.5 87.3,233.4 87.8,233.3 88.3,233.2 88.8,233.2 89.3,233.3 89.8,233.4 90.3,233.3 90.8,233.4 91.3,233.2 91.8,233.4 92.3,233.3 92.8,233.3 93.3,233.5 93.8,233.2 94.3,233.5 94.8,233.3 95.3,233.6 95.8,233.3 96.3,233.5 96.8,233.3 97.3,233.4 97.8,233.3 98.3,233.1 98.8,233.0 99.3,232.8 99.8,232.9 100.3,232.6 100.8,232.4 101.3,232.3 101.8,232.0 102.3,232.0 102.8,231.8 103.3,231.8 103.8,231.7 104.3,231.4 104.8,231.5 105.3,231.3 105.8,231.1 106.3,231.0 106.8,231.0 107.3,230.8 107.8,230.7 108.3,230.4 108.8,230.3 109.3,229.9 109.8,229.9 110.3,229.7 110.8,229.4 111.3,229.3 111.8,229.2 112.3,228.8 112.8,228.7 113.3,228.7 113.8,228.3 114.3,228.0 114.8,228.0 115.3,227.9 115.8,227.6 116.3,227.5 116.8,227.4 117.3,227.6 117.8,227.4 118.3,227.4 118.8,227.2 119.3,227.2 119.8,227.1 120.3,226.8 120.8,226.7 121.3,226.9 121.8,226.9 122.3,226.8 122.8,226.6 123.3,226.6 123.8,226.6 124.3,226.6 124.8,226.8 125.3,226.7 125.8,226.8 126.3,226.7 126.8,227.0 127.3,226.8 127.8,226.9 128.3,226.9 128.8,226.8 129.3,227.1 129.8,226.9 130.3,226.9 130.8,227.1 131.3,227.3 131.8,227.3 132.3,227.3 132.8,227.7 133.3,227.6 133.8,227.7 134.3,228.0 134.8,228.0 135.3,228.2 135.8,228.2 136.3,228.5 136.8,228.6 137.3,228.6 137.8,228.8 138.3,228.7 138.8,228.8 139.3,229.0 139.8,229.1 140.3,229.0 140.8,229.2 141.3,229.5 141.8,229.4 142.3,229.7 142.8,230.0 143.3,229.9 143.8,230.2 144.3,230.3 144.8,230.3 145.3,230.4 145.8,230.7 146.3,230.7 146.8,231.1 147.3,231.3 147.8,231.3 148.3,231.4 148.8,231.5 149.3,231.6 149.8,232.0 150.3,232.1 150.8,232.0 151.3,232.1 151.8,232.3 152.3,232.6 152.8,232.9 153.3,233.1 153.8,233.1 154.3,233.1 154.8,233.4 155.3,233.5 155.8,233.4 156.3,233.7 156.8,233.6 157.3,233.7 157.8,233.7 158.3,233.7 158.8,233.6 159.3,233.6 159.8,233.6 160.3,233.8 160.8,233.7 161.3,233.9 161.8,233.6 162.3,233.6 162.8,233.8 163.3,233.9 163.8,233.7 164.3,233.6 164.8,233.8 165.3,233.7 165.8,233.8 166.3,233.9 166.8,233.9 167.3,233.6 167.8,233.7 168.3,233.5 168.8,233.3 169.3,233.4 169.8,233.1 170.3,233.2 170.8,233.1 171.3,233.2 171.8,233.0 172.3,232.7 172.8,232.8 173.3,232.6 173.8,232.5 174.3,232.4 174.8,232.4 175.3,232.1 175.8,232.0 176.3,232.1 176.8,232.0 177.3,231.9 177.8,231.6 178.3,231.6 178.8,231.3 179.3,231.4 179.8,231.2 180.3,231.1 180.8,231.1 181.3,230.7 181.8,230.8 182.3,230.4 182.8,230.5 183.3,230.1 183.8,230.1 184.3,229.9 184.8,229.7 185.3,229.7 185.8,229.6 186.3,229.4 186.8,229.0 187.3,229.1 187.8,228.6 188.3,228.6 188.8,228.4 189.3,228.3 189.8,228.1 190.3,228.1 190.8,227.7 191.3,227.6 191.8,227.6 192.3,227.7 192.8,227.8 193.3,228.2 193.8,228.3 194.3,228.5 194.8,228.5 195.3,228.8 195.8,228.8 196.3,229.0 196.8,229.2 197.3,229.2 197.8,229.5 198.3,229.7 198.8,229.6 199.3,230.0 199.8,230.1 200.3,230.3 200.8,230.3 201.3,230.3 201.8,230.7 202.3,230.6 202.8,230.9 203.3,231.1 203.8,231.2 204.3,231.1 204.8,231.3 205.3,231.5 205.8,231.6 206.3,231.6 206.8,231.9 207.3,231.7 207.8,232.0 208.3,232.0 208.8,232.2 209.3,232.4 209.8,232.5 210.3,232.4 210.8,232.6 211.3,232.6 211.8,232.9 212.3,232.9 212.8,232.9 213.3,233.2 213.8,233.2 214.3,233.2 214.8,233.3 215.3,233.5 215.8,233.5 216.3,233.6 216.8,233.6 217.3,233.2 217.8,233.4 218.3,233.3 218.8,233.5 219.3,233.5 219.8,233.3 220.3,233.5 220.8,233.2 221.3,233.2 221.8,233.4 222.3,233.3 222.8,233.5 223.3,233.4 223.8,233.4 224.3,233.6 224.8,233.2 225.3,233.5 225.8,233.6 226.3,233.5 226.8,233.3 227.3,233.5 227.8,233.4 228.3,233.3 228.8,233.5 229.3,233.6 229.8,233.5 230.3,233.5 230.8,233.3 231.3,233.5 231.8,233.5 232.3,233.3 232.8,233.4 233.3,233.2 233.8,233.6 234.3,233.5 234.8,233.5 235.3,233.3 235.8,233.2 236.3,233.6 236.8,233.5 237.3,233.4 237.8,233.3 238.3,233.3 238.8,233.4 239.3,233.6 239.8,233.6 240.3,233.4 240.8,233.6 241.3,233.6 241.8,233.4 242.3,233.5 242.8,233.4 243.3,233.4 243.8,233.3 244.3,233.6 244.8,233.4 245.3,233.5 245.8,233.4 246.3,233.4 246.8,233.6 247.3,233.5 247.8,233.4 248.3,233.3 248.8,233.5 249.3,233.4 249.8,233.6 250.3,233.4 250.8,233.2 251.3,233.4 251.8,233.4 252.3,233.5 252.8,233.5 253.3,233.4 253.8,233.5 254.3,233.3 254.8,233.3 255.3,233.5 255.8,233.5 256.3,233.3 256.7,233.4 256.7,323.3 256.3,323.5 255.8,323.3 255.3,323.3 254.8,323.3 254.3,323.4 253.8,323.2 253.3,323.4 252.8,323.4 252.3,323.6 251.8,323.6 251.3,323.5 250.8,323.4 250.3,323.5 249.8,323.6 249.3,323.3 248.8,323.3 248.3,323.3 247.8,323.4 247.3,323.3 246.8,323.5 246.3,323.3 245.8,323.5 245.3,323.5 244.8,323.3 244.3,323.4 243.8,323.4 243.3,323.4 242.8,323.3 242.3,323.3 241.8,323.6 241.3,323.4 240.8,323.6 240.3,323.3 239.8,323.4 239.3,323.4 238.8,323.4 238.3,323.3 237.8,323.6 237.3,323.5 236.8,323.6 236.3,323.5 235.8,323.6 235.3,323.3 234.8,323.5 234.3,323.6 233.8,323.5 233.3,323.3 232.8,323.3 232.3,323.3 231.8,323.3 231.3,323.5 230.8,323.6 230.3,323.6 229.8,323.3 229.3,323.6 228.8,323.4 228.3,323.5 227.8,323.4 227.3,323.6 226.8,323.5 226.3,323.5 225.8,323.5 225.3,323.4 224.8,323.7 224.3,323.6 223.8,323.6 223.3,323.5 222.8,323.6 222.3,323.7 221.8,323.5 221.3,323.5 220.8,323.5 220.3,323.7 219.8,323.8 219.3,323.8 218.8,323.7 218.3,323.7 217.8,323.9 217.3,323.9 216.8,323.8 216.3,324.0 215.8,323.9 215.3,323.9 214.8,323.9 214.3,323.8 213.8,323.6 213.3,323.9 212.8,323.7 212.3,324.0 211.8,323.9 211.3,324.3 210.8,324.3 210.3,324.4 209.8,324.7 209.3,324.8 208.8,324.7 208.3,324.9 207.8,325.0 207.3,325.3 206.8,325.4 206.3,325.6 205.8,325.7 205.3,325.7 204.8,325.8 204.3,325.9 203.8,326.1 203.3,326.2 202.8,326.3 202.3,326.6 201.8,326.5 201.3,326.9 200.8,327.0 200.3,327.0 199.8,327.2 199.3,327.6 198.8,327.7 198.3,327.8 197.8,327.7 197.3,328.1 196.8,328.2 196.3,328.2 195.8,328.6 195.3,328.4 194.8,328.6 194.3,328.7 193.8,328.9 193.3,329.0 192.8,329.4 192.3,329.5 191.8,329.6 191.3,329.7 190.8,329.4 190.3,329.5 189.8,329.2 189.3,328.9 188.8,328.8 188.3,328.8 187.8,328.5 187.3,328.2 186.8,328.2 186.3,328.1 185.8,327.9 185.3,327.8 184.8,327.5 184.3,327.3 183.8,327.2 183.3,327.2 182.8,327.0 182.3,326.9 181.8,326.8 181.3,326.7 180.8,326.3 180.3,326.3 179.8,326.4 179.3,326.1 178.8,326.3 178.3,325.9 177.8,325.9 177.3,325.8 176.8,326.0 176.3,325.8 175.8,325.7 175.3,325.6 174.8,325.4 174.3,325.4 173.8,325.3 173.3,325.2 172.8,325.1 172.3,325.2 171.8,325.0 171.3,325.1 170.8,324.9 170.3,324.9 169.8,324.8 169.3,324.5 168.8,324.6 168.3,324.4 167.8,324.2 167.3,324.1 166.8,324.0 166.3,324.1 165.8,323.9 165.3,323.9 164.8,324.1 164.3,324.0 163.8,323.9 163.3,323.9 162.8,323.9 162.3,323.8 161.8,323.7 161.3,323.9 160.8,324.0 160.3,324.0 159.8,323.9 159.3,323.8 158.8,324.1 158.3,323.8 157.8,324.0 157.3,323.9 156.8,323.9 156.3,324.1 155.8,324.1 155.3,324.2 154.8,324.3 154.3,324.2 153.8,324.4 153.3,324.7 152.8,324.7 152.3,324.9 151.8,325.1 151.3,325.2 150.8,325.0 150.3,325.3 149.8,325.4 149.3,325.6 148.8,325.9 148.3,325.7 147.8,325.9 147.3,325.9 146.8,326.1 146.3,326.2 145.8,326.5 145.3,326.7 144.8,326.5 144.3,326.7 143.8,326.7 143.3,326.8 142.8,327.2 142.3,327.0 141.8,327.3 141.3,327.5 140.8,327.4 140.3,327.5 139.8,327.5 139.3,327.6 138.8,327.7 138.3,327.9 137.8,328.1 137.3,328.1 136.8,328.3 136.3,328.4 135.8,328.5 135.3,328.6 134.8,328.5 134.3,328.8 133.8,328.7 133.3,328.8 132.8,328.8 132.3,329.0 131.8,329.0 131.3,329.2 130.8,329.0 130.3,329.2 129.8,329.4 129.3,329.6 128.8,329.4 128.3,329.6 127.8,329.7 127.3,329.6 126.8,329.5 126.3,329.7 125.8,329.9 125.3,330.0 124.8,330.0 124.3,330.2 123.8,330.0 123.3,330.2 122.8,330.1 122.3,329.8 121.8,329.9 121.3,330.0 120.8,330.0 120.3,329.7 119.8,329.9 119.3,329.6 118.8,329.6 118.3,329.6 117.8,329.6 117.3,329.7 116.8,329.5 116.3,329.7 115.8,329.4 115.3,329.5 114.8,329.3 114.3,329.5 113.8,329.2 113.3,329.1 112.8,329.1 112.3,328.8 111.8,328.8 111.3,328.6 110.8,328.4 110.3,328.2 109.8,328.0 109.3,327.8 108.8,327.8 108.3,327.5 107.8,327.6 107.3,327.2 106.8,327.3 106.3,326.9 105.8,327.0 105.3,326.9 104.8,326.4 104.3,326.2 103.8,326.4 103.3,326.1 102.8,325.9 102.3,325.6 101.8,325.6 101.3,325.4 100.8,325.2 100.3,325.1 99.8,325.1 99.3,324.7 98.8,324.5 98.3,324.6 97.8,324.2 97.3,324.1 96.8,324.1 96.3,324.1 95.8,324.0 95.3,323.9 94.8,324.1 94.3,324.1 93.8,324.0 93.3,323.9 92.8,324.3 92.3,324.2 91.8,324.2 91.3,324.2 90.8,324.2 90.3,324.0 89.8,324.1 89.3,324.3 88.8,324.2 88.3,324.1 87.8,324.0 87.3,324.2 86.8,324.1 86.3,324.0 85.8,324.2 85.3,324.0 84.8,324.2 84.3,324.3 83.8,324.0 83.3,324.2 82.8,324.1 82.3,324.1 81.8,324.1 81.3,324.2 80.8,324.2 80.3,324.2 79.8,324.2 79.3,324.0 78.8,324.0 78.3,324.0 77.8,324.0 77.3,324.2 76.8,324.2 76.3,324.0 75.8,324.0 75.3,324.0 74.8,324.2 74.3,324.2 73.8,324.1 73.3,324.2 72.8,324.2 72.3,324.2 71.8,324.3 71.3,324.0 70.8,324.1 70.3,324.3 69.8,324.2 69.3,324.0 68.8,324.2 68.3,324.2 67.8,324.2 67.3,324.1 66.8,324.0 66.3,324.1 65.8,324.3 65.3,323.9 64.8,324.0 64.3,323.9 63.8,324.3 63.3,324.0 62.8,324.0 62.3,323.9 61.8,324.3 61.3,324.2 60.8,323.9 60.3,324.3 59.8,324.1 59.3,323.9 58.8,323.9 58.3,324.1 57.8,324.1 57.3,324.2 56.8,324.0 56.3,324.0 55.8,324.2 55.3,324.1 54.8,324.2 54.3,324.2 53.8,324.2 53.3,323.9" fill="#FA570C"/>
<polygon points="53.3,235.0 53.8,234.9 54.3,234.9 54.8,234.9 55.3,234.9 55.8,234.8 56.3,234.8 56.8,234.8 57.3,234.9 57.8,234.9 58.3,234.8 58.8,235.0 59.3,234.8 59.8,235.0 60.3,234.9 60.8,234.9 61.3,234.9 61.8,235.0 62.3,234.8 62.8,234.8 63.3,234.9 63.8,234.9 64.3,234.8 64.8,235.0 65.3,234.9 65.8,234.8 66.3,234.8 66.8,234.9 67.3,234.9 67.8,234.8 68.3,234.8 68.8,235.0 69.3,234.8 69.8,234.8 70.3,235.0 70.8,234.8 71.3,234.8 71.8,235.0 72.3,234.8 72.8,234.8 73.3,234.8 73.8,234.9 74.3,235.0 74.8,234.9 75.3,234.8 75.8,234.9 76.3,234.9 76.8,234.8 77.3,234.9 77.8,234.9 78.3,234.9 78.8,234.8 79.3,234.8 79.8,234.9 80.3,234.9 80.8,234.9 81.3,234.9 81.8,234.9 82.3,234.8 82.8,235.0 83.3,234.9 83.8,234.9 84.3,234.8 84.8,234.9 85.3,234.9 85.8,234.8 86.3,234.9 86.8,234.8 87.3,235.0 87.8,234.8 88.3,234.8 88.8,234.9 89.3,235.0 89.8,234.9 90.3,234.9 90.8,235.0 91.3,234.8 91.8,234.9 92.3,234.9 92.8,235.0 93.3,234.9 93.8,235.0 94.3,234.8 94.8,234.9 95.3,234.8 95.8,234.9 96.3,234.9 96.8,235.0 97.3,235.7 97.8,236.5 98.3,237.8 98.8,238.9 99.3,239.6 99.8,240.3 100.3,240.9 100.8,241.5 101.3,242.1 101.8,242.6 102.3,243.1 102.8,243.5 103.3,243.8 103.8,244.2 104.3,244.5 104.8,244.8 105.3,245.0 105.8,245.4 106.3,245.6 106.8,245.9 107.3,246.3 107.8,246.5 108.3,247.0 108.8,247.2 109.3,247.5 109.8,248.0 110.3,248.3 110.8,248.8 111.3,249.0 111.8,249.5 112.3,249.8 112.8,250.1 113.3,250.5 113.8,250.9 114.3,251.2 114.8,251.4 115.3,251.5 115.8,251.9 116.3,252.2 116.8,252.4 117.3,252.5 117.8,252.8 118.3,252.8 118.8,252.9 119.3,252.9 119.8,253.0 120.3,252.9 120.8,253.0 121.3,253.1 121.8,253.1 122.3,253.2 122.8,253.3 123.3,253.3 123.8,253.2 124.3,253.3 124.8,253.3 125.3,253.5 125.8,253.6 126.3,253.5 126.8,253.6 127.3,253.7 127.8,253.6 128.3,253.5 128.8,253.5 129.3,253.4 129.8,253.2 130.3,253.1 130.8,252.9 131.3,252.7 131.8,252.6 132.3,252.6 132.8,252.4 133.3,252.4 133.8,252.0 134.3,251.9 134.8,251.7 135.3,251.4 135.8,251.1 136.3,250.9 136.8,250.7 137.3,250.5 137.8,250.2 138.3,250.0 138.8,249.7 139.3,249.5 139.8,249.2 140.3,249.0 140.8,248.5 141.3,248.3 141.8,247.9 142.3,247.5 142.8,247.3 143.3,246.9 143.8,246.6 144.3,246.3 144.8,245.8 145.3,245.5 145.8,245.1 146.3,244.8 146.8,244.3 147.3,244.1 147.8,243.5 148.3,243.2 148.8,242.8 149.3,242.4 149.8,242.1 150.3,241.6 150.8,241.2 151.3,240.8 151.8,240.5 152.3,240.1 152.8,239.6 153.3,239.1 153.8,238.5 154.3,238.0 154.8,237.4 155.3,236.8 155.8,236.4 156.3,235.9 156.8,235.6 157.3,235.4 157.8,235.3 158.3,235.0 158.8,234.9 159.3,234.8 159.8,235.0 160.3,235.0 160.8,234.8 161.3,234.9 161.8,235.0 162.3,234.8 162.8,235.0 163.3,234.9 163.8,234.9 164.3,234.9 164.8,235.0 165.3,235.2 165.8,235.5 166.3,235.6 166.8,235.9 167.3,236.4 167.8,236.7 168.3,237.0 168.8,237.5 169.3,237.9 169.8,238.2 170.3,238.7 170.8,239.1 171.3,239.5 171.8,239.9 172.3,240.3 172.8,240.8 173.3,241.1 173.8,241.6 174.3,242.0 174.8,242.4 175.3,242.8 175.8,243.2 176.3,243.6 176.8,243.9 177.3,244.3 177.8,244.6 178.3,245.1 178.8,245.2 179.3,245.6 179.8,245.9 180.3,246.2 180.8,246.5 181.3,246.9 181.8,247.2 182.3,247.5 182.8,247.7 183.3,248.2 183.8,248.5 184.3,248.9 184.8,249.2 185.3,249.6 185.8,249.7 186.3,250.2 186.8,250.6 187.3,250.8 187.8,251.1 188.3,251.6 188.8,251.9 189.3,252.2 189.8,252.5 190.3,252.8 190.8,253.1 191.3,253.5 191.8,253.3 192.3,253.0 192.8,252.5 193.3,251.9 193.8,251.5 194.3,251.1 194.8,250.6 195.3,250.1 195.8,249.8 196.3,249.2 196.8,248.8 197.3,248.3 197.8,247.9 198.3,247.3 198.8,246.9 199.3,246.4 199.8,245.9 200.3,245.4 200.8,245.0 201.3,244.6 201.8,244.0 202.3,243.6 202.8,243.1 203.3,242.8 203.8,242.5 204.3,242.1 204.8,241.7 205.3,241.4 205.8,241.0 206.3,240.7 206.8,240.3 207.3,240.0 207.8,239.7 208.3,239.3 208.8,239.0 209.3,238.7 209.8,238.3 210.3,237.9 210.8,237.6 211.3,237.3 211.8,236.9 212.3,236.5 212.8,236.3 213.3,235.7 213.8,235.4 214.3,235.1 214.8,234.9 215.3,235.0 215.8,234.9 216.3,235.0 216.8,235.0 217.3,234.9 217.8,235.0 218.3,234.9 218.8,234.9 219.3,235.0 219.8,234.9 220.3,234.9 220.8,234.9 221.3,234.8 221.8,234.9 222.3,235.0 222.8,234.9 223.3,235.0 223.8,234.8 224.3,234.8 224.8,234.9 225.3,234.9 225.8,234.9 226.3,235.0 226.8,234.9 227.3,234.9 227.8,234.8 228.3,235.0 228.8,234.9 229.3,234.9 229.8,234.9 230.3,234.9 230.8,234.9 231.3,235.0 231.8,234.8 232.3,234.9 232.8,234.8 233.3,234.9 233.8,235.0 234.3,234.9 234.8,234.8 235.3,234.8 235.8,235.0 236.3,234.9 236.8,234.9 237.3,235.0 237.8,235.0 238.3,234.9 238.8,234.8 239.3,234.9 239.8,234.9 240.3,234.9 240.8,235.0 241.3,234.8 241.8,234.8 242.3,234.9 242.8,234.9 243.3,234.8 243.8,235.0 244.3,234.8 244.8,234.9 245.3,235.0 245.8,234.9 246.3,234.9 246.8,234.9 247.3,235.0 247.8,235.0 248.3,234.8 248.8,235.0 249.3,234.9 249.8,234.9 250.3,234.9 250.8,234.9 251.3,235.0 251.8,234.9 252.3,234.9 252.8,234.9 253.3,234.9 253.8,234.9 254.3,234.8 254.8,234.9 255.3,234.8 255.8,234.8 256.3,234.9 256.7,234.9 256.7,322.1 256.3,322.1 255.8,322.1 255.3,322.2 254.8,322.1 254.3,322.1 253.8,322.0 253.3,322.1 252.8,322.1 252.3,322.0 251.8,322.0 251.3,322.2 250.8,322.1 250.3,322.2 249.8,322.1 249.3,322.1 248.8,322.1 248.3,322.1 247.8,322.1 247.3,322.1 246.8,322.2 246.3,322.2 245.8,322.1 245.3,322.2 244.8,322.2 244.3,322.2 243.8,322.2 243.3,322.2 242.8,322.2 242.3,322.2 241.8,322.2 241.3,322.1 240.8,322.2 240.3,322.2 239.8,322.2 239.3,322.2 238.8,322.1 238.3,322.1 237.8,322.1 237.3,322.2 236.8,322.1 236.3,322.2 235.8,322.2 235.3,322.2 234.8,322.1 234.3,322.1 233.8,322.2 233.3,322.2 232.8,322.2 232.3,322.3 231.8,322.1 231.3,322.1 230.8,322.1 230.3,322.2 229.8,322.1 229.3,322.2 228.8,322.1 228.3,322.2 227.8,322.2 227.3,322.2 226.8,322.3 226.3,322.3 225.8,322.3 225.3,322.1 224.8,322.1 224.3,322.2 223.8,322.3 223.3,322.2 222.8,322.2 222.3,322.3 221.8,322.3 221.3,322.3 220.8,322.3 220.3,322.4 219.8,322.3 219.3,322.3 218.8,322.4 218.3,322.5 217.8,322.5 217.3,322.4 216.8,322.5 216.3,322.5 215.8,322.4 215.3,322.4 214.8,322.4 214.3,322.3 213.8,321.9 213.3,321.6 212.8,321.1 212.3,320.8 211.8,320.3 211.3,320.0 210.8,319.5 210.3,319.1 209.8,318.7 209.3,318.3 208.8,317.9 208.3,317.4 207.8,316.9 207.3,316.6 206.8,316.0 206.3,315.7 205.8,315.2 205.3,314.6 204.8,314.1 204.3,313.8 203.8,313.3 203.3,312.8 202.8,312.4 202.3,312.0 201.8,311.6 201.3,311.3 200.8,310.7 200.3,310.4 199.8,310.0 199.3,309.4 198.8,309.1 198.3,308.7 197.8,308.2 197.3,308.0 196.8,307.4 196.3,307.1 195.8,306.6 195.3,306.3 194.8,305.9 194.3,305.6 193.8,305.5 193.3,305.2 192.8,304.9 192.3,304.7 191.8,304.6 191.3,304.5 190.8,304.4 190.3,304.6 189.8,304.9 189.3,304.9 188.8,305.2 188.3,305.3 187.8,305.5 187.3,305.7 186.8,306.1 186.3,306.5 185.8,306.9 185.3,307.1 184.8,307.6 184.3,307.9 183.8,308.1 183.3,308.5 182.8,309.0 182.3,309.3 181.8,309.6 181.3,309.9 180.8,310.3 180.3,310.9 179.8,311.1 179.3,311.6 178.8,312.0 178.3,312.4 177.8,312.9 177.3,313.2 176.8,313.6 176.3,314.0 175.8,314.3 175.3,314.8 174.8,315.1 174.3,315.6 173.8,316.0 173.3,316.4 172.8,316.8 172.3,317.2 171.8,317.6 171.3,317.9 170.8,318.4 170.3,318.8 169.8,319.1 169.3,319.5 168.8,319.9 168.3,320.2 167.8,320.5 167.3,320.8 166.8,321.0 166.3,321.2 165.8,321.6 165.3,321.7 164.8,322.1 164.3,322.3 163.8,322.5 163.3,322.5 162.8,322.8 162.3,322.7 161.8,322.7 161.3,322.7 160.8,322.6 160.3,322.7 159.8,322.7 159.3,322.6 158.8,322.4 158.3,322.2 157.8,321.9 157.3,321.5 156.8,321.3 156.3,321.0 155.8,320.5 155.3,320.2 154.8,319.7 154.3,319.4 153.8,318.9 153.3,318.5 152.8,318.0 152.3,317.7 151.8,317.3 151.3,316.8 150.8,316.4 150.3,316.0 149.8,315.6 149.3,315.2 148.8,314.8 148.3,314.4 147.8,313.9 147.3,313.4 146.8,313.1 146.3,312.8 145.8,312.2 145.3,312.0 144.8,311.4 144.3,311.1 143.8,310.7 143.3,310.3 142.8,310.0 142.3,309.8 141.8,309.4 141.3,309.2 140.8,308.9 140.3,308.6 139.8,308.5 139.3,308.1 138.8,307.9 138.3,307.7 137.8,307.5 137.3,307.3 136.8,306.9 136.3,306.7 135.8,306.5 135.3,306.3 134.8,306.1 134.3,305.8 133.8,305.8 133.3,305.6 132.8,305.4 132.3,305.4 131.8,305.2 131.3,304.9 130.8,305.0 130.3,304.7 129.8,304.5 129.3,304.4 128.8,304.4 128.3,304.3 127.8,304.3 127.3,304.3 126.8,304.3 126.3,304.4 125.8,304.3 125.3,304.3 124.8,304.3 124.3,304.3 123.8,304.3 123.3,304.3 122.8,304.3 122.3,304.2 121.8,304.3 121.3,304.2 120.8,304.3 120.3,304.4 119.8,304.3 119.3,304.6 118.8,304.7 118.3,304.8 117.8,305.1 117.3,305.1 116.8,305.2 116.3,305.4 115.8,305.7 115.3,305.9 114.8,305.9 114.3,306.3 113.8,306.6 113.3,307.0 112.8,307.2 112.3,307.6 111.8,307.8 111.3,308.2 110.8,308.5 110.3,308.8 109.8,309.3 109.3,309.6 108.8,309.8 108.3,310.2 107.8,310.4 107.3,310.9 106.8,311.2 106.3,311.6 105.8,312.0 105.3,312.4 104.8,312.7 104.3,313.0 103.8,313.4 103.3,313.8 102.8,314.2 102.3,314.5 101.8,315.0 101.3,315.4 100.8,315.9 100.3,316.4 99.8,316.9 99.3,317.5 98.8,318.4 98.3,319.5 97.8,320.7 97.3,321.9 96.8,322.5 96.3,322.7 95.8,322.6 95.3,322.6 94.8,322.7 94.3,322.7 93.8,322.6 93.3,322.7 92.8,322.6 92.3,322.7 91.8,322.7 91.3,322.6 90.8,322.8 90.3,322.8 89.8,322.7 89.3,322.8 88.8,322.6 88.3,322.6 87.8,322.7 87.3,322.7 86.8,322.6 86.3,322.8 85.8,322.8 85.3,322.7 84.8,322.8 84.3,322.8 83.8,322.7 83.3,322.7 82.8,322.6 82.3,322.7 81.8,322.8 81.3,322.7 80.8,322.6 80.3,322.7 79.8,322.7 79.3,322.8 78.8,322.8 78.3,322.7 77.8,322.6 77.3,322.7 76.8,322.6 76.3,322.7 75.8,322.8 75.3,322.7 74.8,322.7 74.3,322.6 73.8,322.7 73.3,322.6 72.8,322.6 72.3,322.6 71.8,322.8 71.3,322.7 70.8,322.7 70.3,322.7 69.8,322.7 69.3,322.6 68.8,322.7 68.3,322.8 67.8,322.8 67.3,322.7 66.8,322.6 66.3,322.6 65.8,322.6 65.3,322.8 64.8,322.7 64.3,322.7 63.8,322.6 63.3,322.7 62.8,322.8 62.3,322.6 61.8,322.6 61.3,322.8 60.8,322.7 60.3,322.6 59.8,322.7 59.3,322.7 58.8,322.7 58.3,322.6 57.8,322.6 57.3,322.6 56.8,322.6 56.3,322.7 55.8,322.7 55.3,322.8 54.8,322.7 54.3,322.6 53.8,322.6 53.3,322.7" fill="#FFB000"/>
<text class="tk" x="56.9" y="368.9" text-anchor="middle">0</text>
<text class="tk" x="124.9" y="368.9" text-anchor="middle">20</text>
<text class="tk" x="192.3" y="368.9" text-anchor="middle">40</text>
<text class="tk" x="259.8" y="368.9" text-anchor="middle">60</text>
<text class="tk" x="52.5" y="216.9" text-anchor="end">4</text>
<text class="tk" x="52.5" y="251.8" text-anchor="end">2</text>
<text class="tk" x="52.5" y="286.6" text-anchor="end">0</text>
<text class="tk" x="52.5" y="321.5" text-anchor="end">-2</text>
<text class="tk" x="52.5" y="356.3" text-anchor="end">-4</text>
<text class="lx" x="158.3" y="386.9" text-anchor="middle" textLength="13.5" lengthAdjust="spacing">t/s</text>
<text class="lb" transform="translate(34.9,277.6) rotate(-90)" text-anchor="middle" textLength="56" lengthAdjust="spacing">Current/A</text>
<rect x="183.0" y="218.3" width="64.90" height="49.00" fill="#fff" stroke="#2c2c2c" stroke-width="1.1"/>
<line x1="187.0" y1="227.60" x2="229.2" y2="227.60" stroke="#0B72C4" stroke-width="1.25"/>
<text class="lg" x="235.5" y="233.0">U</text>
<line x1="187.0" y1="243.30" x2="229.2" y2="243.30" stroke="#FF7A40" stroke-width="1.7"/>
<text class="lg" x="235.5" y="248.7">V</text>
<line x1="187.0" y1="258.10" x2="229.2" y2="258.10" stroke="#FFB414" stroke-width="1.5"/>
<text class="lg" x="235.5" y="263.5">W</text>
<text class="pl" x="4.2" y="232">c)</text>
<rect x="330.2" y="210.0" width="202.20" height="138.80" fill="none" stroke="#2c2c2c" stroke-width="1.1"/>
<path d="M397.60 348.8v-2.2M397.60 210.0v2.2M465.00 348.8v-2.2M465.00 210.0v2.2M330.2 244.70h2.2M532.4 244.70h-2.2M330.2 279.40h2.2M532.4 279.40h-2.2M330.2 314.10h2.2M532.4 314.10h-2.2" stroke="#2c2c2c" stroke-width="1.1" fill="none"/>
<polygon points="329.6,227.9 330.1,228.1 330.6,227.8 331.1,227.5 331.6,228.1 332.1,228.1 332.6,227.6 333.1,227.8 333.6,227.9 334.1,227.8 334.6,227.5 335.1,227.8 335.6,227.4 336.1,227.5 336.6,227.5 337.1,227.6 337.6,227.5 338.1,227.9 338.6,227.6 339.1,228.1 339.6,228.2 340.1,227.8 340.6,227.7 341.1,227.9 341.6,227.6 342.1,227.7 342.6,228.0 343.1,227.7 343.6,227.7 344.1,228.1 344.6,227.5 345.1,228.0 345.6,227.8 346.1,227.9 346.6,227.4 347.1,227.7 347.6,227.5 348.1,227.8 348.6,228.1 349.1,228.0 349.6,227.8 350.1,227.5 350.6,227.7 351.1,228.1 351.6,227.9 352.1,227.7 352.6,227.7 353.1,228.1 353.6,227.8 354.1,227.6 354.6,227.7 355.1,227.6 355.6,228.0 356.1,227.9 356.6,228.1 357.1,227.8 357.6,228.1 358.1,228.0 358.6,227.6 359.1,227.4 359.6,228.1 360.1,227.4 360.6,227.9 361.1,227.4 361.6,228.0 362.1,228.0 362.6,227.9 363.1,227.7 363.6,227.5 364.1,227.5 364.6,227.5 365.1,227.9 365.6,227.5 366.1,228.0 366.6,227.8 367.1,227.9 367.6,228.0 368.1,227.9 368.6,227.7 369.1,227.5 369.6,227.4 370.1,227.8 370.6,227.6 371.1,227.9 371.6,227.8 372.1,227.8 372.6,227.9 373.1,227.8 373.6,227.3 374.1,227.6 374.6,227.3 375.1,226.7 375.6,226.9 376.1,226.3 376.6,225.6 377.1,225.3 377.6,225.1 378.1,224.8 378.6,224.7 379.1,224.5 379.6,224.1 380.1,223.6 380.6,223.8 381.1,223.8 381.6,223.4 382.1,223.0 382.6,223.2 383.1,222.6 383.6,223.0 384.1,222.8 384.6,222.2 385.1,222.3 385.6,222.2 386.1,221.6 386.6,221.8 387.1,221.6 387.6,221.1 388.1,221.1 388.6,221.2 389.1,220.9 389.6,221.1 390.1,221.2 390.6,221.0 391.1,220.8 391.6,220.7 392.1,220.6 392.6,220.1 393.1,220.3 393.6,220.3 394.1,220.3 394.6,220.3 395.1,219.7 395.6,220.1 396.1,219.6 396.6,219.4 397.1,220.0 397.6,219.3 398.1,219.6 398.6,219.7 399.1,219.7 399.6,219.9 400.1,219.6 400.6,219.7 401.1,219.6 401.6,219.8 402.1,219.4 402.6,219.3 403.1,219.3 403.6,219.5 404.1,219.2 404.6,219.2 405.1,219.6 405.6,219.9 406.1,219.5 406.6,219.5 407.1,219.8 407.6,219.8 408.1,220.3 408.6,220.2 409.1,220.5 409.6,220.9 410.1,220.6 410.6,221.2 411.1,221.0 411.6,221.0 412.1,221.3 412.6,221.9 413.1,222.1 413.6,222.0 414.1,222.2 414.6,222.3 415.1,222.5 415.6,222.6 416.1,223.3 416.6,223.1 417.1,223.4 417.6,223.3 418.1,224.1 418.6,223.9 419.1,224.6 419.6,224.6 420.1,224.6 420.6,225.3 421.1,225.0 421.6,225.5 422.1,226.3 422.6,226.2 423.1,226.4 423.6,226.8 424.1,226.8 424.6,227.3 425.1,227.7 425.6,227.4 426.1,227.8 426.6,227.9 427.1,228.1 427.6,227.6 428.1,227.7 428.6,227.8 429.1,227.9 429.6,228.0 430.1,227.7 430.6,227.8 431.1,227.4 431.6,228.2 432.1,228.1 432.6,227.5 433.1,227.5 433.6,227.5 434.1,228.1 434.6,228.1 435.1,227.8 435.6,227.6 436.1,228.0 436.6,227.4 437.1,227.7 437.6,228.1 438.1,227.5 438.6,227.7 439.1,227.4 439.6,228.1 440.1,227.8 440.6,228.0 441.1,227.8 441.6,227.5 442.1,227.6 442.6,227.7 443.1,227.5 443.6,227.6 444.1,227.5 444.6,227.9 445.1,227.8 445.6,227.5 446.1,226.9 446.6,227.2 447.1,226.7 447.6,226.2 448.1,225.9 448.6,225.8 449.1,225.4 449.6,225.5 450.1,224.7 450.6,224.5 451.1,224.7 451.6,224.1 452.1,223.8 452.6,224.1 453.1,223.8 453.6,223.4 454.1,223.1 454.6,223.1 455.1,223.3 455.6,222.6 456.1,222.5 456.6,222.5 457.1,222.1 457.6,222.4 458.1,221.6 458.6,221.8 459.1,221.9 459.6,221.1 460.1,221.2 460.6,221.5 461.1,221.0 461.6,221.1 462.1,220.9 462.6,220.7 463.1,220.7 463.6,220.6 464.1,220.8 464.6,220.2 465.1,220.3 465.6,220.1 466.1,219.7 466.6,219.7 467.1,219.4 467.6,219.3 468.1,219.6 468.6,220.0 469.1,219.5 469.6,219.6 470.1,220.1 470.6,220.5 471.1,220.6 471.6,220.4 472.1,221.0 472.6,220.9 473.1,221.4 473.6,221.0 474.1,221.6 474.6,221.7 475.1,221.4 475.6,222.1 476.1,222.1 476.6,222.0 477.1,222.5 477.6,222.2 478.1,222.5 478.6,222.7 479.1,223.2 479.6,223.4 480.1,224.0 480.6,224.4 481.1,224.0 481.6,224.8 482.1,225.2 482.6,225.4 483.1,225.8 483.6,226.0 484.1,226.2 484.6,226.2 485.1,226.7 485.6,226.9 486.1,227.5 486.6,227.7 487.1,228.2 487.6,228.3 488.1,228.3 488.6,227.9 489.1,228.6 489.6,228.5 490.1,228.5 490.6,228.0 491.1,228.2 491.6,228.5 492.1,228.0 492.6,228.7 493.1,228.3 493.6,228.4 494.1,228.0 494.6,228.5 495.1,228.0 495.6,228.6 496.1,228.1 496.6,228.5 497.1,228.5 497.6,228.6 498.1,228.3 498.6,228.0 499.1,228.0 499.6,228.0 500.1,228.2 500.6,228.3 501.1,228.3 501.6,228.3 502.1,228.5 502.6,228.6 503.1,228.6 503.6,228.3 504.1,228.1 504.6,228.1 505.1,228.1 505.6,228.4 506.1,228.6 506.6,228.0 507.1,228.1 507.6,228.5 508.1,228.4 508.6,228.0 509.1,228.1 509.6,228.6 510.1,228.3 510.6,228.3 511.1,228.0 511.6,228.2 512.1,228.3 512.6,228.3 513.1,228.4 513.6,228.1 514.1,228.5 514.6,228.6 515.1,228.2 515.6,228.1 516.1,228.4 516.6,228.4 517.1,228.2 517.6,228.7 518.1,228.5 518.6,228.0 519.1,228.4 519.6,228.7 520.1,228.5 520.6,228.7 521.1,228.6 521.6,228.7 522.1,228.4 522.6,228.4 523.1,228.3 523.6,228.6 524.1,228.6 524.6,228.2 525.1,228.0 525.6,228.5 526.1,228.7 526.6,228.3 527.1,228.2 527.6,228.0 528.1,228.2 528.6,228.4 529.1,228.2 529.6,228.3 530.1,228.2 530.6,228.0 531.1,228.3 531.6,228.6 532.1,228.4 532.6,228.1 532.9,228.5 532.9,328.6 532.6,328.8 532.1,329.0 531.6,328.7 531.1,329.0 530.6,328.7 530.1,328.7 529.6,328.9 529.1,329.3 528.6,328.7 528.1,328.7 527.6,329.2 527.1,328.8 526.6,328.9 526.1,329.0 525.6,328.7 525.1,329.3 524.6,329.2 524.1,329.3 523.6,328.9 523.1,329.0 522.6,329.4 522.1,329.0 521.6,328.8 521.1,328.9 520.6,329.3 520.1,329.2 519.6,329.1 519.1,328.7 518.6,329.4 518.1,329.1 517.6,329.4 517.1,329.0 516.6,329.1 516.1,329.4 515.6,328.7 515.1,328.8 514.6,329.3 514.1,329.4 513.6,328.7 513.1,328.8 512.6,328.9 512.1,329.3 511.6,328.8 511.1,328.7 510.6,328.7 510.1,329.5 509.6,328.8 509.1,329.2 508.6,328.8 508.1,328.9 507.6,329.3 507.1,328.7 506.6,329.3 506.1,329.3 505.6,328.9 505.1,329.2 504.6,329.1 504.1,329.5 503.6,329.5 503.1,328.9 502.6,329.0 502.1,329.0 501.6,328.8 501.1,329.0 500.6,328.8 500.1,329.3 499.6,329.0 499.1,328.9 498.6,329.0 498.1,329.1 497.6,329.4 497.1,329.4 496.6,329.5 496.1,329.2 495.6,328.8 495.1,329.2 494.6,329.2 494.1,329.1 493.6,329.5 493.1,329.0 492.6,329.4 492.1,329.0 491.6,329.5 491.1,329.2 490.6,328.8 490.1,329.5 489.6,329.3 489.1,329.3 488.6,329.5 488.1,329.6 487.6,329.6 487.1,330.0 486.6,329.8 486.1,329.9 485.6,330.7 485.1,330.4 484.6,330.6 484.1,331.2 483.6,331.3 483.1,331.7 482.6,331.4 482.1,331.9 481.6,332.3 481.1,332.6 480.6,332.9 480.1,332.8 479.6,333.1 479.1,333.5 478.6,333.6 478.1,333.8 477.6,333.9 477.1,334.3 476.6,334.9 476.1,335.1 475.6,335.3 475.1,335.2 474.6,335.6 474.1,335.7 473.6,336.2 473.1,335.9 472.6,336.6 472.1,336.5 471.6,336.7 471.1,336.9 470.6,337.0 470.1,337.5 469.6,337.4 469.1,337.5 468.6,337.6 468.1,338.1 467.6,337.6 467.1,338.0 466.6,337.8 466.1,337.7 465.6,337.3 465.1,337.4 464.6,337.4 464.1,336.9 463.6,337.4 463.1,337.2 462.6,337.0 462.1,336.9 461.6,336.7 461.1,336.5 460.6,336.4 460.1,336.1 459.6,336.4 459.1,336.0 458.6,336.0 458.1,335.8 457.6,336.2 457.1,335.3 456.6,335.3 456.1,335.2 455.6,335.5 455.1,335.1 454.6,335.4 454.1,335.0 453.6,334.6 453.1,334.5 452.6,334.4 452.1,334.2 451.6,334.0 451.1,333.8 450.6,333.7 450.1,333.3 449.6,332.7 449.1,333.2 448.6,332.6 448.1,332.5 447.6,332.2 447.1,331.7 446.6,331.0 446.1,331.4 445.6,330.6 445.1,330.8 444.6,330.1 444.1,330.2 443.6,329.9 443.1,329.5 442.6,329.7 442.1,329.7 441.6,329.5 441.1,329.6 440.6,329.2 440.1,329.4 439.6,329.8 439.1,329.7 438.6,329.2 438.1,329.6 437.6,329.6 437.1,329.3 436.6,329.8 436.1,329.3 435.6,329.2 435.1,329.1 434.6,329.6 434.1,329.6 433.6,329.5 433.1,329.9 432.6,329.5 432.1,329.4 431.6,329.5 431.1,329.8 430.6,329.5 430.1,329.8 429.6,329.4 429.1,329.3 428.6,329.2 428.1,329.7 427.6,329.6 427.1,329.5 426.6,330.0 426.1,329.9 425.6,330.9 425.1,330.7 424.6,331.2 424.1,331.4 423.6,332.2 423.1,331.9 422.6,332.7 422.1,333.0 421.6,333.2 421.1,333.5 420.6,333.9 420.1,334.0 419.6,334.2 419.1,334.4 418.6,335.3 418.1,335.1 417.6,335.4 417.1,335.7 416.6,335.8 416.1,336.2 415.6,336.2 415.1,336.0 414.6,336.1 414.1,336.8 413.6,336.6 413.1,336.8 412.6,337.3 412.1,337.0 411.6,337.6 411.1,337.4 410.6,337.5 410.1,338.2 409.6,338.3 409.1,338.1 408.6,338.3 408.1,338.6 407.6,338.7 407.1,338.3 406.6,338.4 406.1,339.1 405.6,338.8 405.1,339.1 404.6,339.4 404.1,339.6 403.6,339.3 403.1,339.6 402.6,339.5 402.1,339.0 401.6,339.2 401.1,339.3 400.6,339.1 400.1,339.2 399.6,339.0 399.1,339.1 398.6,338.6 398.1,338.6 397.6,338.4 397.1,338.8 396.6,338.3 396.1,338.6 395.6,338.4 395.1,338.5 394.6,338.3 394.1,338.2 393.6,338.3 393.1,338.3 392.6,337.6 392.1,337.7 391.6,337.5 391.1,337.4 390.6,337.6 390.1,337.4 389.6,337.3 389.1,337.3 388.6,337.4 388.1,336.8 387.6,336.8 387.1,336.7 386.6,337.0 386.1,336.5 385.6,336.1 385.1,336.0 384.6,336.4 384.1,336.0 383.6,335.5 383.1,335.9 382.6,335.3 382.1,335.4 381.6,335.3 381.1,335.1 380.6,334.7 380.1,334.7 379.6,334.3 379.1,334.2 378.6,333.5 378.1,333.3 377.6,333.4 377.1,332.8 376.6,332.1 376.1,331.9 375.6,331.8 375.1,331.3 374.6,331.2 374.1,330.9 373.6,330.4 373.1,330.3 372.6,329.6 372.1,329.4 371.6,329.8 371.1,329.4 370.6,329.7 370.1,329.3 369.6,329.4 369.1,329.5 368.6,329.8 368.1,329.2 367.6,329.5 367.1,329.2 366.6,329.2 366.1,329.7 365.6,329.8 365.1,329.8 364.6,329.1 364.1,329.5 363.6,329.3 363.1,329.5 362.6,329.1 362.1,329.5 361.6,329.6 361.1,329.3 360.6,329.3 360.1,329.6 359.6,329.3 359.1,329.8 358.6,329.3 358.1,329.8 357.6,329.9 357.1,329.7 356.6,329.3 356.1,329.4 355.6,329.2 355.1,329.4 354.6,329.7 354.1,329.2 353.6,329.3 353.1,329.1 352.6,329.4 352.1,329.8 351.6,329.7 351.1,329.7 350.6,329.1 350.1,329.7 349.6,329.6 349.1,329.6 348.6,329.5 348.1,329.5 347.6,329.9 347.1,329.4 346.6,329.5 346.1,329.7 345.6,329.4 345.1,329.8 344.6,329.8 344.1,329.2 343.6,329.6 343.1,329.3 342.6,329.3 342.1,329.8 341.6,329.2 341.1,329.6 340.6,329.6 340.1,329.3 339.6,329.4 339.1,329.6 338.6,329.5 338.1,329.2 337.6,329.7 337.1,329.7 336.6,329.6 336.1,329.3 335.6,329.2 335.1,329.6 334.6,329.4 334.1,329.6 333.6,329.5 333.1,329.8 332.6,329.4 332.1,329.6 331.6,329.7 331.1,329.6 330.6,329.8 330.1,329.5 329.6,329.2" fill="#0B72C4"/>
<polygon points="329.6,227.2 330.1,227.4 330.6,227.1 331.1,227.5 331.6,227.2 332.1,227.4 332.6,227.4 333.1,227.4 333.6,227.2 334.1,227.4 334.6,227.2 335.1,227.3 335.6,227.4 336.1,227.4 336.6,227.4 337.1,227.3 337.6,227.4 338.1,227.3 338.6,227.2 339.1,227.4 339.6,227.3 340.1,227.2 340.6,227.4 341.1,227.4 341.6,227.2 342.1,227.2 342.6,227.2 343.1,227.5 343.6,227.3 344.1,227.3 344.6,227.5 345.1,227.2 345.6,227.2 346.1,227.3 346.6,227.3 347.1,227.1 347.6,227.3 348.1,227.2 348.6,227.3 349.1,227.4 349.6,227.3 350.1,227.3 350.6,227.4 351.1,227.3 351.6,227.4 352.1,227.2 352.6,227.3 353.1,227.4 353.6,227.4 354.1,227.4 354.6,227.3 355.1,227.3 355.6,227.2 356.1,227.4 356.6,227.2 357.1,227.2 357.6,227.2 358.1,227.2 358.6,227.2 359.1,227.3 359.6,227.3 360.1,227.2 360.6,227.2 361.1,227.2 361.6,227.4 362.1,227.3 362.6,227.2 363.1,227.3 363.6,227.2 364.1,227.3 364.6,227.2 365.1,227.1 365.6,227.3 366.1,227.4 366.6,227.3 367.1,227.3 367.6,227.2 368.1,227.5 368.6,227.3 369.1,227.3 369.6,227.2 370.1,227.3 370.6,227.4 371.1,227.4 371.6,227.2 372.1,227.4 372.6,227.3 373.1,227.1 373.6,227.4 374.1,227.3 374.6,227.1 375.1,227.0 375.6,227.0 376.1,226.9 376.6,226.7 377.1,226.5 377.6,226.5 378.1,226.2 378.6,226.2 379.1,225.8 379.6,225.7 380.1,225.6 380.6,225.4 381.1,225.2 381.6,225.2 382.1,225.0 382.6,225.1 383.1,225.2 383.6,225.0 384.1,224.7 384.6,224.6 385.1,224.7 385.6,224.8 386.1,224.6 386.6,224.5 387.1,224.5 387.6,224.1 388.1,224.3 388.6,224.1 389.1,224.0 389.6,224.0 390.1,223.8 390.6,223.8 391.1,223.6 391.6,223.5 392.1,223.5 392.6,223.7 393.1,223.7 393.6,223.6 394.1,223.7 394.6,223.7 395.1,223.5 395.6,223.6 396.1,223.5 396.6,223.5 397.1,223.3 397.6,223.4 398.1,223.3 398.6,223.4 399.1,223.4 399.6,223.4 400.1,223.4 400.6,223.4 401.1,223.1 401.6,223.3 402.1,223.4 402.6,223.4 403.1,223.2 403.6,223.2 404.1,223.4 404.6,223.5 405.1,223.6 405.6,223.4 406.1,223.5 406.6,223.5 407.1,223.5 407.6,223.7 408.1,223.6 408.6,223.9 409.1,223.6 409.6,223.9 410.1,224.0 410.6,223.8 411.1,223.9 411.6,223.9 412.1,224.2 412.6,224.0 413.1,224.1 413.6,224.2 414.1,224.5 414.6,224.5 415.1,224.9 415.6,225.0 416.1,225.2 416.6,225.2 417.1,225.1 417.6,225.2 418.1,225.4 418.6,225.5 419.1,225.8 419.6,225.9 420.1,225.9 420.6,226.2 421.1,226.4 421.6,226.5 422.1,226.4 422.6,226.7 423.1,226.7 423.6,226.8 424.1,226.9 424.6,227.2 425.1,227.4 425.6,227.4 426.1,227.1 426.6,227.2 427.1,227.3 427.6,227.4 428.1,227.2 428.6,227.4 429.1,227.5 429.6,227.3 430.1,227.4 430.6,227.1 431.1,227.4 431.6,227.2 432.1,227.3 432.6,227.3 433.1,227.2 433.6,227.2 434.1,227.2 434.6,227.3 435.1,227.4 435.6,227.2 436.1,227.3 436.6,227.1 437.1,227.2 437.6,227.4 438.1,227.1 438.6,227.4 439.1,227.4 439.6,227.4 440.1,227.4 440.6,227.4 441.1,227.3 441.6,227.4 442.1,227.4 442.6,227.4 443.1,227.4 443.6,227.1 444.1,227.4 444.6,227.1 445.1,227.3 445.6,227.3 446.1,227.2 446.6,227.0 447.1,226.8 447.6,226.9 448.1,226.8 448.6,226.5 449.1,226.7 449.6,226.5 450.1,226.6 450.6,226.4 451.1,226.1 451.6,226.1 452.1,226.1 452.6,226.0 453.1,226.0 453.6,225.8 454.1,225.9 454.6,225.6 455.1,225.5 455.6,225.3 456.1,225.4 456.6,225.2 457.1,225.0 457.6,225.1 458.1,225.1 458.6,224.8 459.1,224.8 459.6,224.5 460.1,224.6 460.6,224.5 461.1,224.6 461.6,224.2 462.1,224.4 462.6,224.1 463.1,224.2 463.6,224.1 464.1,224.1 464.6,223.9 465.1,223.9 465.6,223.6 466.1,223.7 466.6,223.5 467.1,223.3 467.6,223.3 468.1,223.3 468.6,223.5 469.1,223.4 469.6,223.5 470.1,223.7 470.6,223.6 471.1,223.9 471.6,223.9 472.1,224.0 472.6,224.2 473.1,224.2 473.6,224.3 474.1,224.3 474.6,224.6 475.1,224.4 475.6,224.8 476.1,224.9 476.6,225.0 477.1,225.0 477.6,225.1 478.1,225.1 478.6,225.2 479.1,225.4 479.6,225.5 480.1,225.7 480.6,225.6 481.1,225.9 481.6,226.0 482.1,226.2 482.6,226.3 483.1,226.5 483.6,226.4 484.1,226.7 484.6,226.8 485.1,226.9 485.6,227.2 486.1,227.1 486.6,227.2 487.1,227.6 487.6,227.7 488.1,227.9 488.6,227.7 489.1,227.7 489.6,227.9 490.1,227.6 490.6,227.8 491.1,227.6 491.6,227.9 492.1,227.7 492.6,227.9 493.1,228.0 493.6,228.0 494.1,227.8 494.6,227.9 495.1,227.8 495.6,227.7 496.1,227.7 496.6,227.8 497.1,227.8 497.6,227.8 498.1,227.9 498.6,227.7 499.1,227.8 499.6,227.6 500.1,227.8 500.6,227.7 501.1,227.8 501.6,227.8 502.1,227.7 502.6,228.0 503.1,227.7 503.6,227.9 504.1,227.7 504.6,227.7 505.1,227.7 505.6,227.8 506.1,228.0 506.6,227.9 507.1,228.0 507.6,227.9 508.1,227.7 508.6,227.9 509.1,227.7 509.6,227.8 510.1,227.9 510.6,227.8 511.1,228.0 511.6,228.0 512.1,228.0 512.6,227.7 513.1,227.9 513.6,227.7 514.1,227.8 514.6,228.0 515.1,228.0 515.6,228.0 516.1,227.9 516.6,227.8 517.1,227.8 517.6,227.8 518.1,227.9 518.6,227.8 519.1,228.0 519.6,227.9 520.1,227.9 520.6,227.7 521.1,227.9 521.6,227.8 522.1,227.8 522.6,228.0 523.1,228.0 523.6,228.0 524.1,227.7 524.6,227.9 525.1,228.0 525.6,227.8 526.1,227.9 526.6,227.8 527.1,227.9 527.6,227.9 528.1,228.1 528.6,227.7 529.1,227.9 529.6,228.0 530.1,228.0 530.6,227.9 531.1,227.8 531.6,227.9 532.1,227.8 532.6,227.8 532.9,227.9 532.9,329.3 532.6,329.5 532.1,329.5 531.6,329.5 531.1,329.5 530.6,329.6 530.1,329.6 529.6,329.4 529.1,329.4 528.6,329.7 528.1,329.6 527.6,329.6 527.1,329.4 526.6,329.4 526.1,329.7 525.6,329.5 525.1,329.4 524.6,329.4 524.1,329.5 523.6,329.6 523.1,329.6 522.6,329.6 522.1,329.4 521.6,329.5 521.1,329.4 520.6,329.7 520.1,329.6 519.6,329.4 519.1,329.7 518.6,329.5 518.1,329.5 517.6,329.7 517.1,329.5 516.6,329.5 516.1,329.6 515.6,329.5 515.1,329.6 514.6,329.5 514.1,329.4 513.6,329.5 513.1,329.4 512.6,329.7 512.1,329.6 511.6,329.7 511.1,329.6 510.6,329.5 510.1,329.7 509.6,329.6 509.1,329.4 508.6,329.8 508.1,329.7 507.6,329.6 507.1,329.5 506.6,329.6 506.1,329.7 505.6,329.7 505.1,329.8 504.6,329.4 504.1,329.4 503.6,329.6 503.1,329.7 502.6,329.5 502.1,329.7 501.6,329.6 501.1,329.8 500.6,329.8 500.1,329.5 499.6,329.7 499.1,329.6 498.6,329.6 498.1,329.5 497.6,329.6 497.1,329.6 496.6,329.8 496.1,329.6 495.6,329.7 495.1,329.7 494.6,329.6 494.1,329.8 493.6,329.8 493.1,329.5 492.6,329.6 492.1,329.6 491.6,329.7 491.1,329.8 490.6,329.5 490.1,329.7 489.6,329.5 489.1,329.6 488.6,329.8 488.1,329.7 487.6,329.7 487.1,329.8 486.6,329.7 486.1,329.8 485.6,330.0 485.1,330.1 484.6,330.1 484.1,330.2 483.6,330.5 483.1,330.6 482.6,330.7 482.1,330.9 481.6,331.1 481.1,331.2 480.6,331.4 480.1,331.5 479.6,331.8 479.1,331.8 478.6,331.9 478.1,332.0 477.6,332.4 477.1,332.2 476.6,332.3 476.1,332.5 475.6,332.5 475.1,332.5 474.6,332.8 474.1,332.6 473.6,333.0 473.1,333.0 472.6,332.8 472.1,333.1 471.6,333.3 471.1,333.1 470.6,333.3 470.1,333.4 469.6,333.3 469.1,333.6 468.6,333.5 468.1,333.5 467.6,333.5 467.1,333.6 466.6,333.4 466.1,333.4 465.6,333.3 465.1,333.4 464.6,333.3 464.1,333.2 463.6,333.0 463.1,333.0 462.6,333.0 462.1,333.0 461.6,333.0 461.1,332.9 460.6,332.9 460.1,332.7 459.6,333.0 459.1,332.6 458.6,332.8 458.1,332.7 457.6,332.7 457.1,332.5 456.6,332.4 456.1,332.3 455.6,332.3 455.1,332.3 454.6,332.3 454.1,332.0 453.6,332.2 453.1,331.8 452.6,332.0 452.1,331.7 451.6,331.5 451.1,331.4 450.6,331.5 450.1,331.3 449.6,331.2 449.1,331.1 448.6,331.1 448.1,330.9 447.6,330.7 447.1,330.6 446.6,330.6 446.1,330.4 445.6,330.4 445.1,330.2 444.6,330.1 444.1,329.9 443.6,330.1 443.1,330.1 442.6,329.9 442.1,330.0 441.6,330.2 441.1,329.8 440.6,330.0 440.1,330.0 439.6,330.0 439.1,330.1 438.6,330.1 438.1,329.8 437.6,330.2 437.1,330.1 436.6,329.9 436.1,329.8 435.6,330.1 435.1,329.9 434.6,330.0 434.1,330.0 433.6,330.0 433.1,329.9 432.6,330.2 432.1,330.0 431.6,329.9 431.1,329.9 430.6,330.2 430.1,330.1 429.6,329.9 429.1,330.1 428.6,330.0 428.1,330.0 427.6,329.8 427.1,330.0 426.6,330.2 426.1,330.0 425.6,330.2 425.1,330.4 424.6,330.4 424.1,330.4 423.6,330.7 423.1,330.7 422.6,331.1 422.1,331.2 421.6,331.1 421.1,331.5 420.6,331.4 420.1,331.7 419.6,331.6 419.1,331.9 418.6,332.0 418.1,332.0 417.6,332.1 417.1,332.4 416.6,332.4 416.1,332.7 415.6,332.6 415.1,332.6 414.6,333.1 414.1,332.9 413.6,333.2 413.1,333.1 412.6,333.4 412.1,333.3 411.6,333.3 411.1,333.4 410.6,333.5 410.1,333.7 409.6,333.6 409.1,333.5 408.6,333.6 408.1,333.6 407.6,333.8 407.1,333.9 406.6,333.8 406.1,334.0 405.6,333.9 405.1,334.1 404.6,333.9 404.1,333.9 403.6,334.1 403.1,333.9 402.6,334.0 402.1,334.0 401.6,334.2 401.1,334.1 400.6,334.4 400.1,334.3 399.6,334.3 399.1,334.4 398.6,334.3 398.1,334.1 397.6,333.9 397.1,334.1 396.6,333.9 396.1,333.8 395.6,333.7 395.1,333.9 394.6,333.8 394.1,333.6 393.6,333.4 393.1,333.6 392.6,333.3 392.1,333.5 391.6,333.2 391.1,333.2 390.6,333.1 390.1,333.0 389.6,333.0 389.1,333.1 388.6,333.0 388.1,333.0 387.6,332.6 387.1,332.8 386.6,332.7 386.1,332.7 385.6,332.6 385.1,332.4 384.6,332.6 384.1,332.4 383.6,332.2 383.1,332.1 382.6,332.0 382.1,331.9 381.6,331.7 381.1,331.8 380.6,331.4 380.1,331.2 379.6,331.3 379.1,331.2 378.6,330.9 378.1,331.0 377.6,331.0 377.1,330.7 376.6,330.5 376.1,330.3 375.6,330.2 375.1,330.3 374.6,330.1 374.1,330.1 373.6,330.0 373.1,330.2 372.6,330.2 372.1,329.9 371.6,330.0 371.1,330.0 370.6,330.0 370.1,329.9 369.6,330.1 369.1,330.1 368.6,330.0 368.1,330.1 367.6,330.0 367.1,330.1 366.6,329.8 366.1,329.9 365.6,329.8 365.1,329.8 364.6,330.0 364.1,329.9 363.6,330.0 363.1,329.9 362.6,330.0 362.1,330.0 361.6,330.1 361.1,329.9 360.6,330.1 360.1,330.0 359.6,330.1 359.1,330.1 358.6,329.8 358.1,330.0 357.6,330.2 357.1,330.1 356.6,330.0 356.1,329.8 355.6,330.0 355.1,330.1 354.6,330.1 354.1,330.0 353.6,330.0 353.1,330.0 352.6,329.9 352.1,329.8 351.6,329.9 351.1,330.0 350.6,330.0 350.1,330.2 349.6,330.2 349.1,330.0 348.6,329.9 348.1,330.2 347.6,330.0 347.1,330.1 346.6,330.1 346.1,329.9 345.6,329.9 345.1,329.9 344.6,330.1 344.1,330.0 343.6,330.1 343.1,329.9 342.6,329.9 342.1,329.9 341.6,330.1 341.1,329.9 340.6,330.0 340.1,330.1 339.6,329.9 339.1,329.9 338.6,330.2 338.1,330.1 337.6,330.0 337.1,330.0 336.6,330.1 336.1,330.2 335.6,330.0 335.1,330.1 334.6,330.0 334.1,329.9 333.6,330.2 333.1,330.0 332.6,329.9 332.1,329.9 331.6,329.8 331.1,330.1 330.6,329.9 330.1,330.0 329.6,330.0" fill="#FA570C"/>
<polygon points="329.6,230.9 330.1,230.7 330.6,230.7 331.1,230.8 331.6,230.7 332.1,230.9 332.6,230.8 333.1,230.7 333.6,230.7 334.1,230.9 334.6,230.7 335.1,230.9 335.6,230.7 336.1,230.8 336.6,230.8 337.1,230.9 337.6,230.9 338.1,230.7 338.6,230.8 339.1,230.8 339.6,230.8 340.1,230.8 340.6,230.8 341.1,230.9 341.6,230.8 342.1,230.8 342.6,230.7 343.1,230.9 343.6,230.7 344.1,230.7 344.6,230.8 345.1,230.9 345.6,230.8 346.1,230.8 346.6,230.7 347.1,230.8 347.6,230.8 348.1,230.8 348.6,230.8 349.1,230.7 349.6,230.8 350.1,230.7 350.6,230.8 351.1,230.8 351.6,230.7 352.1,230.9 352.6,230.9 353.1,230.8 353.6,230.9 354.1,230.9 354.6,230.9 355.1,230.7 355.6,230.8 356.1,230.7 356.6,230.7 357.1,230.9 357.6,230.8 358.1,230.8 358.6,230.9 359.1,230.8 359.6,230.8 360.1,230.8 360.6,230.8 361.1,230.8 361.6,230.9 362.1,230.7 362.6,230.8 363.1,230.9 363.6,230.7 364.1,230.9 364.6,230.7 365.1,230.9 365.6,230.7 366.1,230.8 366.6,230.7 367.1,230.8 367.6,230.7 368.1,230.8 368.6,230.8 369.1,230.8 369.6,230.8 370.1,230.8 370.6,230.9 371.1,230.9 371.6,231.1 372.1,231.7 372.6,232.5 373.1,233.5 373.6,234.6 374.1,235.4 374.6,236.3 375.1,237.1 375.6,237.9 376.1,238.4 376.6,239.2 377.1,239.9 377.6,240.4 378.1,241.1 378.6,241.5 379.1,242.2 379.6,242.4 380.1,243.0 380.6,243.3 381.1,243.7 381.6,244.2 382.1,244.6 382.6,245.1 383.1,245.4 383.6,245.8 384.1,246.2 384.6,246.3 385.1,246.7 385.6,246.8 386.1,247.1 386.6,247.4 387.1,247.6 387.6,247.8 388.1,248.2 388.6,248.5 389.1,248.7 389.6,248.8 390.1,249.1 390.6,249.0 391.1,249.1 391.6,249.3 392.1,249.4 392.6,249.6 393.1,249.5 393.6,249.7 394.1,249.7 394.6,249.8 395.1,250.0 395.6,250.0 396.1,250.2 396.6,250.2 397.1,250.3 397.6,250.4 398.1,250.5 398.6,250.5 399.1,250.6 399.6,250.4 400.1,250.5 400.6,250.6 401.1,250.5 401.6,250.6 402.1,250.6 402.6,250.6 403.1,250.6 403.6,250.6 404.1,250.8 404.6,250.7 405.1,250.6 405.6,250.5 406.1,250.3 406.6,250.1 407.1,250.0 407.6,249.8 408.1,249.6 408.6,249.4 409.1,249.2 409.6,248.9 410.1,248.8 410.6,248.5 411.1,248.3 411.6,248.2 412.1,247.9 412.6,247.4 413.1,247.3 413.6,246.9 414.1,246.6 414.6,246.3 415.1,246.0 415.6,245.8 416.1,245.3 416.6,245.2 417.1,244.9 417.6,244.4 418.1,244.0 418.6,243.6 419.1,243.1 419.6,242.8 420.1,242.2 420.6,241.9 421.1,241.4 421.6,241.0 422.1,240.5 422.6,240.1 423.1,239.6 423.6,239.2 424.1,238.6 424.6,238.1 425.1,237.6 425.6,237.1 426.1,236.6 426.6,236.1 427.1,235.5 427.6,235.1 428.1,234.6 428.6,234.1 429.1,233.6 429.6,233.1 430.1,232.7 430.6,232.3 431.1,231.8 431.6,231.5 432.1,231.2 432.6,231.1 433.1,231.0 433.6,231.0 434.1,230.8 434.6,230.8 435.1,230.9 435.6,230.8 436.1,230.9 436.6,230.9 437.1,230.8 437.6,230.8 438.1,230.8 438.6,230.8 439.1,230.8 439.6,230.9 440.1,231.0 440.6,231.4 441.1,231.9 441.6,232.6 442.1,233.3 442.6,233.9 443.1,234.7 443.6,235.1 444.1,235.9 444.6,236.3 445.1,236.9 445.6,237.5 446.1,238.1 446.6,238.6 447.1,239.1 447.6,239.7 448.1,240.1 448.6,240.6 449.1,240.9 449.6,241.3 450.1,241.7 450.6,242.1 451.1,242.6 451.6,242.9 452.1,243.4 452.6,243.7 453.1,244.1 453.6,244.6 454.1,245.0 454.6,245.2 455.1,245.6 455.6,246.0 456.1,246.3 456.6,246.6 457.1,246.8 457.6,247.2 458.1,247.5 458.6,247.9 459.1,248.1 459.6,248.4 460.1,248.6 460.6,248.7 461.1,248.9 461.6,248.9 462.1,249.1 462.6,249.3 463.1,249.5 463.6,249.7 464.1,249.8 464.6,249.9 465.1,250.1 465.6,250.3 466.1,250.3 466.6,250.6 467.1,250.7 467.6,250.8 468.1,250.8 468.6,250.7 469.1,250.3 469.6,250.1 470.1,249.8 470.6,249.4 471.1,249.2 471.6,248.8 472.1,248.6 472.6,248.1 473.1,248.0 473.6,247.6 474.1,247.3 474.6,247.0 475.1,246.8 475.6,246.5 476.1,246.2 476.6,245.8 477.1,245.5 477.6,245.2 478.1,244.9 478.6,244.6 479.1,244.2 479.6,243.7 480.1,243.3 480.6,243.0 481.1,242.4 481.6,242.1 482.1,241.8 482.6,241.3 483.1,240.9 483.6,240.6 484.1,240.0 484.6,239.8 485.1,239.4 485.6,239.0 486.1,238.4 486.6,238.1 487.1,237.6 487.6,237.3 488.1,236.9 488.6,236.6 489.1,236.2 489.6,235.9 490.1,235.5 490.6,235.2 491.1,234.8 491.6,234.3 492.1,234.0 492.6,233.7 493.1,233.3 493.6,232.8 494.1,232.5 494.6,232.3 495.1,231.8 495.6,231.5 496.1,231.4 496.6,231.3 497.1,231.2 497.6,231.2 498.1,231.1 498.6,231.3 499.1,231.3 499.6,231.3 500.1,231.3 500.6,231.2 501.1,231.3 501.6,231.2 502.1,231.3 502.6,231.2 503.1,231.1 503.6,231.2 504.1,231.1 504.6,231.2 505.1,231.3 505.6,231.3 506.1,231.3 506.6,231.2 507.1,231.1 507.6,231.1 508.1,231.2 508.6,231.3 509.1,231.3 509.6,231.2 510.1,231.3 510.6,231.2 511.1,231.3 511.6,231.2 512.1,231.2 512.6,231.3 513.1,231.2 513.6,231.2 514.1,231.1 514.6,231.3 515.1,231.2 515.6,231.2 516.1,231.3 516.6,231.2 517.1,231.2 517.6,231.3 518.1,231.2 518.6,231.2 519.1,231.3 519.6,231.2 520.1,231.2 520.6,231.2 521.1,231.3 521.6,231.2 522.1,231.2 522.6,231.2 523.1,231.3 523.6,231.2 524.1,231.2 524.6,231.2 525.1,231.2 525.6,231.3 526.1,231.2 526.6,231.3 527.1,231.3 527.6,231.4 528.1,231.4 528.6,231.2 529.1,231.2 529.6,231.3 530.1,231.3 530.6,231.3 531.1,231.2 531.6,231.3 532.1,231.3 532.6,231.4 532.9,231.4 532.9,326.1 532.6,326.1 532.1,326.2 531.6,326.0 531.1,326.2 530.6,326.2 530.1,326.0 529.6,326.0 529.1,326.0 528.6,326.2 528.1,326.0 527.6,326.1 527.1,326.1 526.6,326.1 526.1,326.2 525.6,326.0 525.1,326.1 524.6,326.2 524.1,326.2 523.6,326.2 523.1,326.2 522.6,326.1 522.1,326.2 521.6,326.1 521.1,326.2 520.6,326.1 520.1,326.2 519.6,326.1 519.1,326.2 518.6,326.2 518.1,326.1 517.6,326.2 517.1,326.2 516.6,326.1 516.1,326.1 515.6,326.1 515.1,326.1 514.6,326.1 514.1,326.2 513.6,326.1 513.1,326.2 512.6,326.1 512.1,326.1 511.6,326.1 511.1,326.1 510.6,326.1 510.1,326.3 509.6,326.2 509.1,326.1 508.6,326.2 508.1,326.3 507.6,326.1 507.1,326.2 506.6,326.2 506.1,326.2 505.6,326.2 505.1,326.2 504.6,326.2 504.1,326.2 503.6,326.2 503.1,326.1 502.6,326.2 502.1,326.3 501.6,326.1 501.1,326.2 500.6,326.2 500.1,326.2 499.6,326.1 499.1,326.3 498.6,326.3 498.1,326.2 497.6,326.1 497.1,326.1 496.6,326.3 496.1,326.1 495.6,325.7 495.1,325.4 494.6,325.0 494.1,324.7 493.6,324.5 493.1,324.2 492.6,323.8 492.1,323.5 491.6,323.2 491.1,322.8 490.6,322.5 490.1,322.2 489.6,321.9 489.1,321.5 488.6,321.1 488.1,320.7 487.6,320.4 487.1,320.1 486.6,319.7 486.1,319.3 485.6,319.0 485.1,318.6 484.6,318.4 484.1,317.9 483.6,317.7 483.1,317.2 482.6,316.8 482.1,316.6 481.6,316.2 481.1,315.9 480.6,315.5 480.1,315.1 479.6,314.8 479.1,314.4 478.6,314.1 478.1,313.6 477.6,313.3 477.1,312.9 476.6,312.5 476.1,312.3 475.6,311.9 475.1,311.5 474.6,311.2 474.1,310.6 473.6,310.3 473.1,310.0 472.6,309.6 472.1,309.1 471.6,308.9 471.1,308.5 470.6,308.2 470.1,307.7 469.6,307.3 469.1,306.9 468.6,306.6 468.1,306.4 467.6,306.5 467.1,306.7 466.6,306.7 466.1,307.0 465.6,307.0 465.1,307.2 464.6,307.3 464.1,307.6 463.6,307.7 463.1,307.9 462.6,307.9 462.1,308.2 461.6,308.3 461.1,308.4 460.6,308.6 460.1,309.0 459.6,309.0 459.1,309.4 458.6,309.5 458.1,309.6 457.6,309.9 457.1,310.0 456.6,310.3 456.1,310.5 455.6,310.7 455.1,311.1 454.6,311.5 454.1,311.9 453.6,312.1 453.1,312.7 452.6,313.0 452.1,313.5 451.6,313.9 451.1,314.3 450.6,314.7 450.1,315.0 449.6,315.5 449.1,315.8 448.6,316.5 448.1,317.1 447.6,317.6 447.1,318.4 446.6,318.9 446.1,319.5 445.6,320.1 445.1,320.7 444.6,321.5 444.1,322.1 443.6,322.6 443.1,323.3 442.6,324.0 442.1,324.5 441.6,325.1 441.1,325.6 440.6,326.2 440.1,326.7 439.6,326.7 439.1,326.8 438.6,326.8 438.1,326.7 437.6,326.7 437.1,326.7 436.6,326.9 436.1,326.9 435.6,326.8 435.1,326.7 434.6,326.8 434.1,326.7 433.6,326.7 433.1,326.7 432.6,326.6 432.1,326.4 431.6,326.1 431.1,325.9 430.6,325.4 430.1,324.9 429.6,324.5 429.1,324.0 428.6,323.5 428.1,323.0 427.6,322.6 427.1,321.9 426.6,321.6 426.1,320.9 425.6,320.3 425.1,319.8 424.6,319.2 424.1,318.7 423.6,318.1 423.1,317.6 422.6,317.0 422.1,316.6 421.6,316.0 421.1,315.7 420.6,315.2 420.1,314.9 419.6,314.4 419.1,313.9 418.6,313.5 418.1,313.0 417.6,312.6 417.1,312.4 416.6,312.1 416.1,311.7 415.6,311.3 415.1,311.1 414.6,310.8 414.1,310.4 413.6,310.1 413.1,309.9 412.6,309.5 412.1,309.4 411.6,309.0 411.1,308.8 410.6,308.5 410.1,308.4 409.6,308.1 409.1,308.0 408.6,307.8 408.1,307.5 407.6,307.3 407.1,307.1 406.6,307.0 406.1,306.8 405.6,306.6 405.1,306.4 404.6,306.3 404.1,306.3 403.6,306.5 403.1,306.3 402.6,306.4 402.1,306.5 401.6,306.5 401.1,306.7 400.6,306.5 400.1,306.8 399.6,306.7 399.1,306.7 398.6,306.7 398.1,306.8 397.6,306.9 397.1,307.0 396.6,307.0 396.1,307.2 395.6,307.4 395.1,307.5 394.6,307.5 394.1,307.7 393.6,307.8 393.1,307.9 392.6,308.1 392.1,308.1 391.6,308.4 391.1,308.5 390.6,308.5 390.1,308.7 389.6,308.9 389.1,309.1 388.6,309.2 388.1,309.5 387.6,309.8 387.1,310.0 386.6,310.3 386.1,310.6 385.6,310.9 385.1,311.1 384.6,311.4 384.1,311.7 383.6,312.0 383.1,312.2 382.6,312.7 382.1,313.1 381.6,313.5 381.1,313.9 380.6,314.4 380.1,314.8 379.6,315.2 379.1,315.8 378.6,316.2 378.1,316.8 377.6,317.3 377.1,317.9 376.6,318.5 376.1,319.2 375.6,319.9 375.1,320.5 374.6,321.3 374.1,322.2 373.6,323.1 373.1,324.1 372.6,325.2 372.1,325.9 371.6,326.5 371.1,326.7 370.6,326.9 370.1,326.8 369.6,326.8 369.1,326.8 368.6,326.8 368.1,326.8 367.6,326.8 367.1,326.8 366.6,326.8 366.1,326.8 365.6,326.9 365.1,326.7 364.6,326.9 364.1,326.7 363.6,326.8 363.1,326.9 362.6,326.8 362.1,326.7 361.6,326.8 361.1,326.8 360.6,326.9 360.1,326.7 359.6,326.8 359.1,326.8 358.6,326.9 358.1,326.9 357.6,326.8 357.1,326.8 356.6,326.9 356.1,326.8 355.6,326.8 355.1,326.9 354.6,326.9 354.1,326.8 353.6,326.9 353.1,326.8 352.6,326.8 352.1,326.8 351.6,326.7 351.1,326.7 350.6,326.8 350.1,326.7 349.6,326.8 349.1,326.8 348.6,326.9 348.1,326.8 347.6,326.8 347.1,326.7 346.6,326.7 346.1,326.7 345.6,326.8 345.1,326.7 344.6,326.9 344.1,326.9 343.6,326.7 343.1,326.7 342.6,326.7 342.1,326.9 341.6,326.8 341.1,326.7 340.6,326.7 340.1,326.9 339.6,326.8 339.1,326.9 338.6,326.8 338.1,326.9 337.6,326.8 337.1,326.8 336.6,326.9 336.1,326.8 335.6,326.8 335.1,326.9 334.6,326.8 334.1,326.8 333.6,326.8 333.1,326.9 332.6,326.8 332.1,326.8 331.6,326.8 331.1,326.8 330.6,326.7 330.1,326.8 329.6,326.8" fill="#FFB000"/>
<text class="tk" x="333.3" y="368.9" text-anchor="middle">0</text>
<text class="tk" x="401.3" y="368.9" text-anchor="middle">20</text>
<text class="tk" x="468.7" y="368.9" text-anchor="middle">40</text>
<text class="tk" x="536.1" y="368.9" text-anchor="middle">60</text>
<text class="tk" x="328.9" y="216.9" text-anchor="end">4</text>
<text class="tk" x="328.9" y="251.8" text-anchor="end">2</text>
<text class="tk" x="328.9" y="286.6" text-anchor="end">0</text>
<text class="tk" x="328.9" y="321.5" text-anchor="end">-2</text>
<text class="tk" x="328.9" y="356.3" text-anchor="end">-4</text>
<text class="lx" x="434.7" y="386.9" text-anchor="middle" textLength="13.5" lengthAdjust="spacing">t/s</text>
<text class="lb" transform="translate(311.3,277.6) rotate(-90)" text-anchor="middle" textLength="56" lengthAdjust="spacing">Current/A</text>
<rect x="459.3" y="218.3" width="64.95" height="49.00" fill="#fff" stroke="#2c2c2c" stroke-width="1.1"/>
<line x1="463.3" y1="227.60" x2="505.5" y2="227.60" stroke="#0B72C4" stroke-width="1.25"/>
<text class="lg" x="511.8" y="233.0">U</text>
<line x1="463.3" y1="243.30" x2="505.5" y2="243.30" stroke="#FF7A40" stroke-width="1.7"/>
<text class="lg" x="511.8" y="248.7">V</text>
<line x1="463.3" y1="258.10" x2="505.5" y2="258.10" stroke="#FFB414" stroke-width="1.5"/>
<text class="lg" x="511.8" y="263.5">W</text>
<text class="pl" x="274.6" y="232">d)</text>
</svg>
</body></html>
